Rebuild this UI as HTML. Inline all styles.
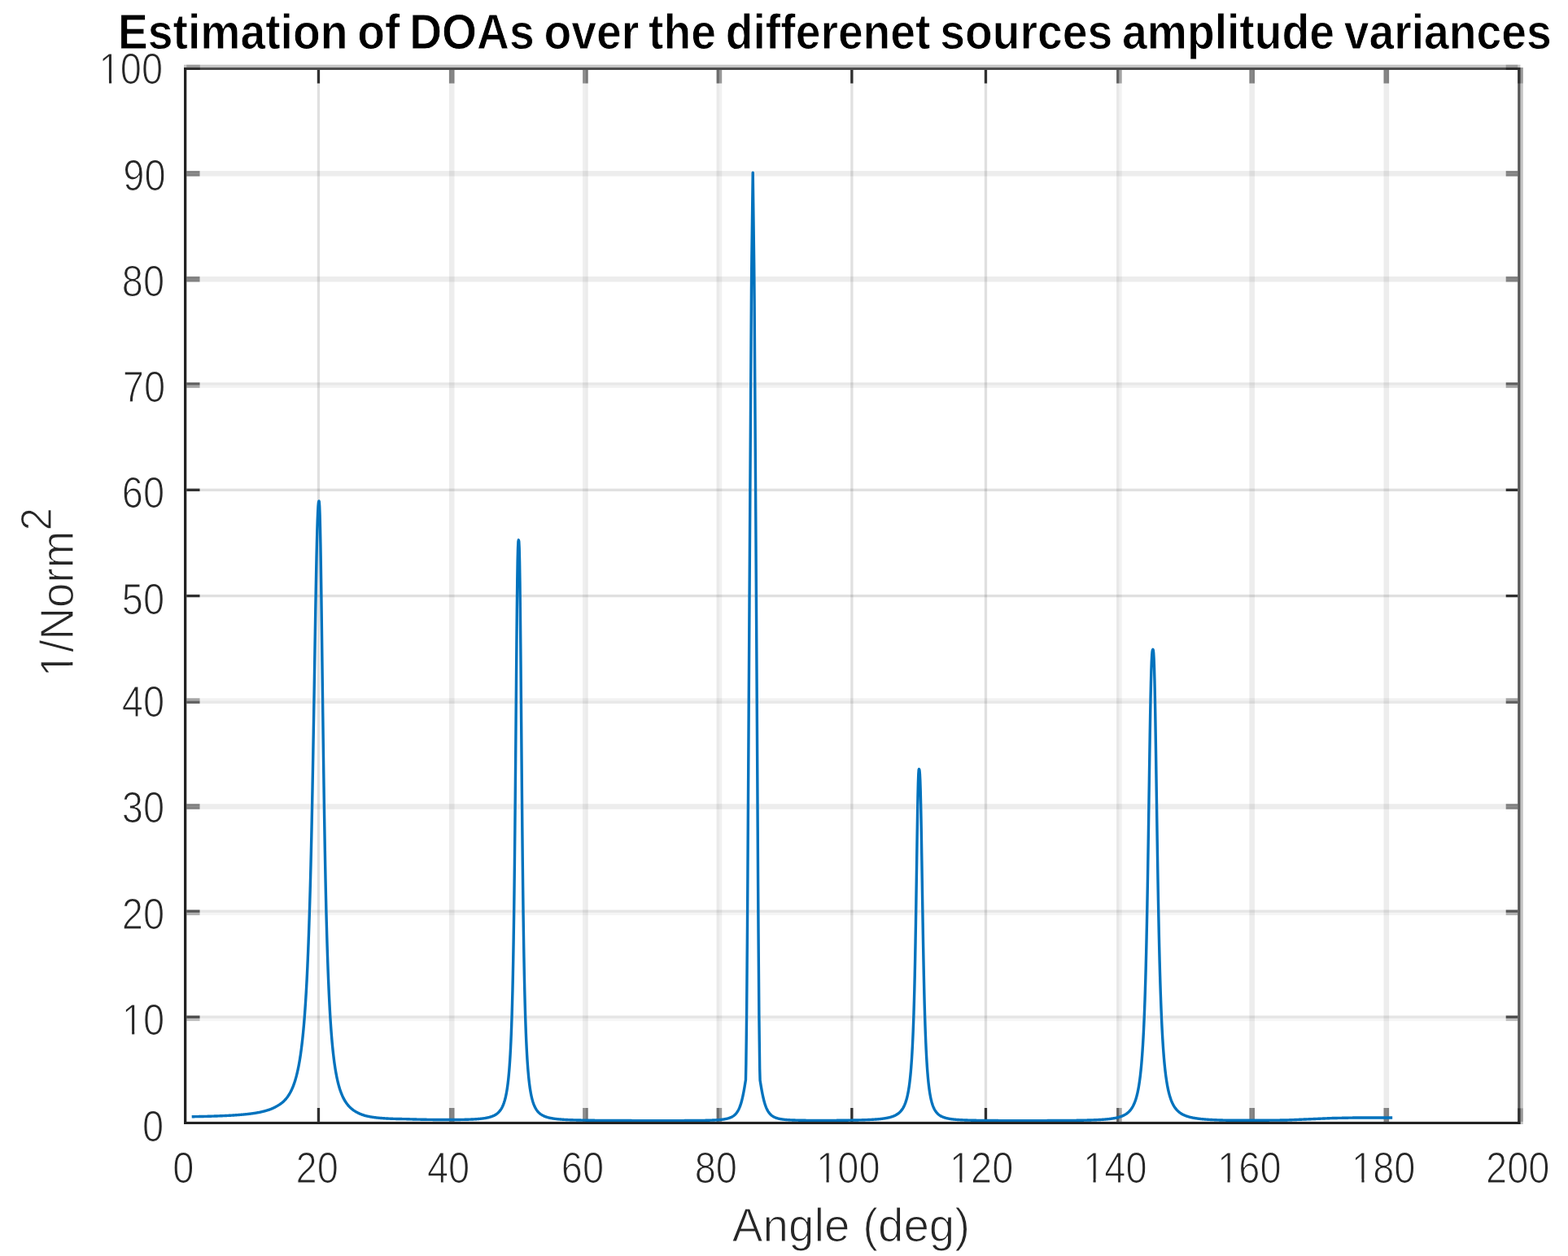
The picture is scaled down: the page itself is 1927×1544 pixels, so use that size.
<!DOCTYPE html>
<html><head><meta charset="utf-8"><title>Estimation of DOAs over the differenet sources amplitude variances</title>
<style>
html,body{margin:0;padding:0;background:#fff;}
body{width:1927px;height:1544px;overflow:hidden;}
svg{display:block;}
text{font-family:"Liberation Sans",Arial,Helvetica,sans-serif;}
</style></head><body>
<svg width="1927" height="1544" viewBox="0 0 1927 1544">
<rect x="0" y="0" width="1927" height="1544" fill="#ffffff"/>
<g fill="#262626"><rect x="389.80" y="86" width="3.3" height="1292.9" fill-opacity="0.142"/><rect x="551.90" y="86" width="3.3" height="1292.9" fill-opacity="0.081"/><rect x="555.20" y="86" width="3.3" height="1292.9" fill-opacity="0.081"/><rect x="716.10" y="86" width="3.3" height="1292.9" fill-opacity="0.073"/><rect x="719.40" y="86" width="3.3" height="1292.9" fill-opacity="0.089"/><rect x="880.60" y="86" width="3.3" height="1292.9" fill-opacity="0.097"/><rect x="883.90" y="86" width="3.3" height="1292.9" fill-opacity="0.065"/><rect x="1045.20" y="86" width="3.3" height="1292.9" fill-opacity="0.142"/><rect x="1209.80" y="86" width="3.3" height="1292.9" fill-opacity="0.142"/><rect x="1372.10" y="86" width="3.3" height="1292.9" fill-opacity="0.105"/><rect x="1375.40" y="86" width="3.3" height="1292.9" fill-opacity="0.057"/><rect x="1535.40" y="86" width="3.3" height="1292.9" fill-opacity="0.081"/><rect x="1538.70" y="86" width="3.3" height="1292.9" fill-opacity="0.081"/><rect x="1700.50" y="86" width="3.3" height="1292.9" fill-opacity="0.081"/><rect x="1703.80" y="86" width="3.3" height="1292.9" fill-opacity="0.081"/><rect x="229.3" y="210.10" width="1635.9" height="3.3" fill-opacity="0.081"/><rect x="229.3" y="213.40" width="1635.9" height="3.3" fill-opacity="0.081"/><rect x="229.3" y="339.90" width="1635.9" height="3.3" fill-opacity="0.081"/><rect x="229.3" y="343.20" width="1635.9" height="3.3" fill-opacity="0.081"/><rect x="229.3" y="470.20" width="1635.9" height="3.3" fill-opacity="0.105"/><rect x="229.3" y="473.50" width="1635.9" height="3.3" fill-opacity="0.057"/><rect x="229.3" y="600.65" width="1635.9" height="3.3" fill-opacity="0.142"/><rect x="229.3" y="730.90" width="1635.9" height="3.3" fill-opacity="0.142"/><rect x="229.3" y="858.30" width="1635.9" height="3.3" fill-opacity="0.057"/><rect x="229.3" y="861.60" width="1635.9" height="3.3" fill-opacity="0.105"/><rect x="229.3" y="988.20" width="1635.9" height="3.3" fill-opacity="0.081"/><rect x="229.3" y="991.50" width="1635.9" height="3.3" fill-opacity="0.081"/><rect x="229.3" y="1118.50" width="1635.9" height="3.3" fill-opacity="0.113"/><rect x="229.3" y="1121.80" width="1635.9" height="3.3" fill-opacity="0.049"/><rect x="229.3" y="1248.50" width="1635.9" height="3.3" fill-opacity="0.121"/><rect x="229.3" y="1251.80" width="1635.9" height="3.3" fill-opacity="0.041"/></g>
<g fill="#262626"><rect x="389.80" y="1362" width="3.3" height="16.9" fill-opacity="0.950"/><rect x="389.80" y="86" width="3.3" height="16.5" fill-opacity="0.950"/><rect x="551.90" y="1362" width="3.3" height="16.9" fill-opacity="0.540"/><rect x="551.90" y="86" width="3.3" height="16.5" fill-opacity="0.540"/><rect x="555.20" y="1362" width="3.3" height="16.9" fill-opacity="0.540"/><rect x="555.20" y="86" width="3.3" height="16.5" fill-opacity="0.540"/><rect x="716.10" y="1362" width="3.3" height="16.9" fill-opacity="0.486"/><rect x="716.10" y="86" width="3.3" height="16.5" fill-opacity="0.486"/><rect x="719.40" y="1362" width="3.3" height="16.9" fill-opacity="0.594"/><rect x="719.40" y="86" width="3.3" height="16.5" fill-opacity="0.594"/><rect x="880.60" y="1362" width="3.3" height="16.9" fill-opacity="0.648"/><rect x="880.60" y="86" width="3.3" height="16.5" fill-opacity="0.648"/><rect x="883.90" y="1362" width="3.3" height="16.9" fill-opacity="0.432"/><rect x="883.90" y="86" width="3.3" height="16.5" fill-opacity="0.432"/><rect x="1045.20" y="1362" width="3.3" height="16.9" fill-opacity="0.950"/><rect x="1045.20" y="86" width="3.3" height="16.5" fill-opacity="0.950"/><rect x="1209.80" y="1362" width="3.3" height="16.9" fill-opacity="0.950"/><rect x="1209.80" y="86" width="3.3" height="16.5" fill-opacity="0.950"/><rect x="1372.10" y="1362" width="3.3" height="16.9" fill-opacity="0.702"/><rect x="1372.10" y="86" width="3.3" height="16.5" fill-opacity="0.702"/><rect x="1375.40" y="1362" width="3.3" height="16.9" fill-opacity="0.378"/><rect x="1375.40" y="86" width="3.3" height="16.5" fill-opacity="0.378"/><rect x="1535.40" y="1362" width="3.3" height="16.9" fill-opacity="0.540"/><rect x="1535.40" y="86" width="3.3" height="16.5" fill-opacity="0.540"/><rect x="1538.70" y="1362" width="3.3" height="16.9" fill-opacity="0.540"/><rect x="1538.70" y="86" width="3.3" height="16.5" fill-opacity="0.540"/><rect x="1700.50" y="1362" width="3.3" height="16.9" fill-opacity="0.540"/><rect x="1700.50" y="86" width="3.3" height="16.5" fill-opacity="0.540"/><rect x="1703.80" y="1362" width="3.3" height="16.9" fill-opacity="0.540"/><rect x="1703.80" y="86" width="3.3" height="16.5" fill-opacity="0.540"/><rect x="229.3" y="210.10" width="16.2" height="3.3" fill-opacity="0.540"/><rect x="1850.70" y="210.10" width="14.5" height="3.3" fill-opacity="0.540"/><rect x="229.3" y="213.40" width="16.2" height="3.3" fill-opacity="0.540"/><rect x="1850.70" y="213.40" width="14.5" height="3.3" fill-opacity="0.540"/><rect x="229.3" y="339.90" width="16.2" height="3.3" fill-opacity="0.540"/><rect x="1850.70" y="339.90" width="14.5" height="3.3" fill-opacity="0.540"/><rect x="229.3" y="343.20" width="16.2" height="3.3" fill-opacity="0.540"/><rect x="1850.70" y="343.20" width="14.5" height="3.3" fill-opacity="0.540"/><rect x="229.3" y="470.20" width="16.2" height="3.3" fill-opacity="0.702"/><rect x="1850.70" y="470.20" width="14.5" height="3.3" fill-opacity="0.702"/><rect x="229.3" y="473.50" width="16.2" height="3.3" fill-opacity="0.378"/><rect x="1850.70" y="473.50" width="14.5" height="3.3" fill-opacity="0.378"/><rect x="229.3" y="600.65" width="16.2" height="3.3" fill-opacity="0.950"/><rect x="1850.70" y="600.65" width="14.5" height="3.3" fill-opacity="0.950"/><rect x="229.3" y="730.90" width="16.2" height="3.3" fill-opacity="0.950"/><rect x="1850.70" y="730.90" width="14.5" height="3.3" fill-opacity="0.950"/><rect x="229.3" y="858.30" width="16.2" height="3.3" fill-opacity="0.378"/><rect x="1850.70" y="858.30" width="14.5" height="3.3" fill-opacity="0.378"/><rect x="229.3" y="861.60" width="16.2" height="3.3" fill-opacity="0.702"/><rect x="1850.70" y="861.60" width="14.5" height="3.3" fill-opacity="0.702"/><rect x="229.3" y="988.20" width="16.2" height="3.3" fill-opacity="0.540"/><rect x="1850.70" y="988.20" width="14.5" height="3.3" fill-opacity="0.540"/><rect x="229.3" y="991.50" width="16.2" height="3.3" fill-opacity="0.540"/><rect x="1850.70" y="991.50" width="14.5" height="3.3" fill-opacity="0.540"/><rect x="229.3" y="1118.50" width="16.2" height="3.3" fill-opacity="0.756"/><rect x="1850.70" y="1118.50" width="14.5" height="3.3" fill-opacity="0.756"/><rect x="229.3" y="1121.80" width="16.2" height="3.3" fill-opacity="0.324"/><rect x="1850.70" y="1121.80" width="14.5" height="3.3" fill-opacity="0.324"/><rect x="229.3" y="1248.50" width="16.2" height="3.3" fill-opacity="0.810"/><rect x="1850.70" y="1248.50" width="14.5" height="3.3" fill-opacity="0.810"/><rect x="229.3" y="1251.80" width="16.2" height="3.3" fill-opacity="0.270"/><rect x="1850.70" y="1251.80" width="14.5" height="3.3" fill-opacity="0.270"/></g>
<g fill="#262626"><rect x="229.3" y="83" width="16.5" height="3" fill-opacity="0.82"/><rect x="229.3" y="79.6" width="16.5" height="3.4" fill-opacity="0.27"/><rect x="1850.70" y="83" width="14.5" height="3" fill-opacity="0.82"/><rect x="1850.70" y="79.6" width="14.5" height="3.4" fill-opacity="0.27"/><rect x="1865.2" y="86" width="3.3" height="16.5" fill-opacity="0.78"/><rect x="1868.5" y="83" width="3.3" height="19.5" fill-opacity="0.27"/><rect x="1865.2" y="1362.40" width="3.3" height="16.5" fill-opacity="0.78"/><rect x="1868.5" y="1362.40" width="3.3" height="16.5" fill-opacity="0.27"/></g>
<path d="M235.70,1372.74 L236.11,1372.73 L236.52,1372.73 L236.93,1372.72 L237.34,1372.71 L237.75,1372.70 L238.16,1372.70 L238.57,1372.69 L238.98,1372.68 L239.39,1372.67 L239.80,1372.67 L240.21,1372.66 L240.62,1372.65 L241.03,1372.64 L241.43,1372.63 L241.84,1372.62 L242.25,1372.62 L242.66,1372.61 L243.07,1372.60 L243.48,1372.59 L243.89,1372.58 L244.30,1372.57 L244.71,1372.56 L245.12,1372.56 L245.53,1372.55 L245.94,1372.54 L246.35,1372.53 L246.76,1372.52 L247.17,1372.51 L247.58,1372.50 L247.99,1372.49 L248.40,1372.48 L248.81,1372.47 L249.22,1372.46 L249.63,1372.45 L250.04,1372.44 L250.45,1372.43 L250.86,1372.42 L251.27,1372.41 L251.68,1372.40 L252.09,1372.39 L252.50,1372.38 L252.91,1372.37 L253.32,1372.36 L253.73,1372.35 L254.14,1372.34 L254.55,1372.33 L254.96,1372.32 L255.37,1372.31 L255.78,1372.29 L256.19,1372.28 L256.60,1372.27 L257.01,1372.26 L257.42,1372.25 L257.83,1372.24 L258.24,1372.22 L258.65,1372.21 L259.06,1372.20 L259.47,1372.19 L259.88,1372.18 L260.29,1372.16 L260.70,1372.15 L261.11,1372.14 L261.52,1372.12 L261.93,1372.11 L262.34,1372.10 L262.75,1372.09 L263.16,1372.07 L263.57,1372.06 L263.98,1372.04 L264.39,1372.03 L264.80,1372.02 L265.21,1372.00 L265.62,1371.99 L266.03,1371.97 L266.44,1371.96 L266.85,1371.94 L267.26,1371.93 L267.67,1371.91 L268.08,1371.90 L268.49,1371.88 L268.89,1371.87 L269.30,1371.85 L269.71,1371.84 L270.12,1371.82 L270.53,1371.80 L270.94,1371.79 L271.35,1371.77 L271.76,1371.75 L272.17,1371.74 L272.58,1371.72 L272.99,1371.70 L273.40,1371.69 L273.81,1371.67 L274.22,1371.65 L274.63,1371.63 L275.04,1371.61 L275.45,1371.60 L275.86,1371.58 L276.27,1371.56 L276.68,1371.54 L277.09,1371.52 L277.50,1371.50 L277.91,1371.48 L278.32,1371.46 L278.73,1371.44 L279.14,1371.42 L279.55,1371.40 L279.96,1371.38 L280.37,1371.36 L280.78,1371.33 L281.19,1371.31 L281.60,1371.29 L282.01,1371.27 L282.42,1371.25 L282.83,1371.22 L283.24,1371.20 L283.65,1371.18 L284.06,1371.15 L284.47,1371.13 L284.88,1371.11 L285.29,1371.08 L285.70,1371.06 L286.11,1371.03 L286.52,1371.01 L286.93,1370.98 L287.34,1370.95 L287.75,1370.93 L288.16,1370.90 L288.57,1370.87 L288.98,1370.85 L289.39,1370.82 L289.80,1370.79 L290.21,1370.76 L290.62,1370.73 L291.03,1370.70 L291.44,1370.67 L291.85,1370.64 L292.26,1370.61 L292.67,1370.58 L293.08,1370.55 L293.49,1370.52 L293.90,1370.49 L294.31,1370.46 L294.72,1370.42 L295.13,1370.39 L295.54,1370.36 L295.94,1370.32 L296.35,1370.29 L296.76,1370.25 L297.17,1370.22 L297.58,1370.18 L297.99,1370.14 L298.40,1370.11 L298.81,1370.07 L299.22,1370.03 L299.63,1369.99 L300.04,1369.95 L300.45,1369.91 L300.86,1369.87 L301.27,1369.83 L301.68,1369.79 L302.09,1369.75 L302.50,1369.71 L302.91,1369.66 L303.32,1369.62 L303.73,1369.57 L304.14,1369.53 L304.55,1369.48 L304.96,1369.44 L305.37,1369.39 L305.78,1369.34 L306.19,1369.29 L306.60,1369.24 L307.01,1369.19 L307.42,1369.14 L307.83,1369.09 L308.24,1369.04 L308.65,1368.98 L309.06,1368.93 L309.47,1368.87 L309.88,1368.82 L310.29,1368.76 L310.70,1368.70 L311.11,1368.64 L311.52,1368.58 L311.93,1368.52 L312.34,1368.46 L312.75,1368.40 L313.16,1368.33 L313.57,1368.27 L313.98,1368.20 L314.39,1368.14 L314.80,1368.07 L315.21,1368.00 L315.62,1367.93 L316.03,1367.86 L316.44,1367.78 L316.85,1367.71 L317.26,1367.63 L317.67,1367.56 L318.08,1367.48 L318.49,1367.40 L318.90,1367.32 L319.31,1367.24 L319.72,1367.15 L320.13,1367.07 L320.54,1366.98 L320.95,1366.89 L321.36,1366.80 L321.77,1366.71 L322.18,1366.62 L322.59,1366.52 L323.00,1366.42 L323.40,1366.32 L323.81,1366.22 L324.22,1366.12 L324.63,1366.02 L325.04,1365.91 L325.45,1365.80 L325.86,1365.69 L326.27,1365.58 L326.68,1365.46 L327.09,1365.34 L327.50,1365.22 L327.91,1365.10 L328.32,1364.98 L328.73,1364.85 L329.14,1364.72 L329.55,1364.59 L329.96,1364.45 L330.37,1364.31 L330.78,1364.17 L331.19,1364.03 L331.60,1363.88 L332.01,1363.73 L332.42,1363.57 L332.83,1363.42 L333.24,1363.25 L333.65,1363.09 L334.06,1362.92 L334.47,1362.75 L334.88,1362.58 L335.29,1362.40 L335.70,1362.21 L336.11,1362.02 L336.52,1361.83 L336.93,1361.63 L337.34,1361.43 L337.75,1361.23 L338.16,1361.02 L338.57,1360.80 L338.98,1360.58 L339.39,1360.35 L339.80,1360.12 L340.21,1359.88 L340.62,1359.64 L341.03,1359.39 L341.44,1359.13 L341.85,1358.87 L342.26,1358.60 L342.67,1358.35 L343.08,1358.10 L343.49,1357.84 L343.90,1357.57 L344.31,1357.29 L344.72,1357.01 L345.13,1356.71 L345.54,1356.41 L345.95,1356.10 L346.36,1355.78 L346.77,1355.44 L347.18,1355.10 L347.59,1354.75 L348.00,1354.39 L348.41,1354.01 L348.82,1353.63 L349.23,1353.23 L349.64,1352.82 L350.05,1352.39 L350.45,1351.95 L350.86,1351.50 L351.27,1351.03 L351.68,1350.55 L352.09,1350.04 L352.50,1349.53 L352.91,1348.99 L353.32,1348.44 L353.73,1347.87 L354.14,1347.27 L354.55,1346.66 L354.96,1346.02 L355.37,1345.37 L355.78,1344.69 L356.19,1343.98 L356.60,1343.25 L357.01,1342.49 L357.42,1341.70 L357.83,1340.88 L358.24,1340.03 L358.65,1339.15 L359.06,1338.24 L359.47,1337.29 L359.88,1336.30 L360.29,1335.27 L360.70,1334.20 L361.11,1333.09 L361.52,1331.93 L361.93,1330.72 L362.34,1329.46 L362.75,1328.15 L363.16,1326.79 L363.57,1325.36 L363.98,1323.87 L364.39,1322.32 L364.80,1320.69 L365.21,1319.00 L365.62,1317.22 L366.03,1315.36 L366.44,1313.42 L366.85,1311.39 L367.26,1309.25 L367.67,1307.02 L368.08,1304.67 L368.49,1302.21 L368.90,1299.62 L369.31,1296.91 L369.72,1294.05 L370.13,1291.05 L370.54,1287.89 L370.95,1284.56 L371.36,1281.05 L371.77,1277.35 L372.18,1273.44 L372.59,1269.32 L373.00,1264.96 L373.41,1260.36 L373.82,1255.49 L374.23,1250.34 L374.64,1244.88 L375.05,1239.10 L375.46,1232.97 L375.87,1226.47 L376.28,1219.56 L376.69,1212.24 L377.10,1204.45 L377.51,1196.18 L377.91,1187.39 L378.32,1178.04 L378.73,1168.09 L379.14,1157.51 L379.55,1146.26 L379.96,1134.29 L380.37,1121.56 L380.78,1108.04 L381.19,1093.68 L381.60,1078.43 L382.01,1062.28 L382.42,1045.18 L382.83,1027.12 L383.24,1008.08 L383.65,988.06 L384.06,967.09 L384.47,945.20 L384.88,922.45 L385.29,898.95 L385.70,874.81 L386.11,850.20 L386.52,825.32 L386.93,800.43 L387.34,775.80 L387.75,751.77 L388.16,728.68 L388.57,706.90 L388.98,686.80 L389.39,668.74 L389.80,653.05 L390.21,639.99 L390.62,629.73 L391.03,622.38 L391.44,617.89 L391.85,616.04 L392.01,615.93 L392.26,616.74 L392.67,622.14 L393.08,632.85 L393.49,648.69 L393.90,669.17 L394.31,693.59 L394.72,721.15 L395.13,750.99 L395.54,782.27 L395.95,814.24 L396.36,846.24 L396.77,877.76 L397.18,908.36 L397.59,937.76 L398.00,965.75 L398.41,992.21 L398.82,1017.07 L399.23,1040.33 L399.64,1062.01 L400.05,1082.18 L400.46,1100.89 L400.87,1118.23 L401.28,1134.29 L401.69,1149.15 L402.10,1162.90 L402.51,1175.63 L402.92,1187.41 L403.33,1198.32 L403.74,1208.43 L404.15,1217.81 L404.56,1226.51 L404.97,1234.60 L405.37,1242.12 L405.78,1249.12 L406.19,1255.64 L406.60,1261.72 L407.01,1267.40 L407.42,1272.71 L407.83,1277.68 L408.24,1282.31 L408.65,1286.64 L409.06,1290.71 L409.47,1294.53 L409.88,1298.13 L410.29,1301.51 L410.70,1304.69 L411.11,1307.69 L411.52,1310.53 L411.93,1313.20 L412.34,1315.73 L412.75,1318.12 L413.16,1320.39 L413.57,1322.54 L413.98,1324.57 L414.39,1326.51 L414.80,1328.34 L415.21,1330.09 L415.62,1331.75 L416.03,1333.33 L416.44,1334.84 L416.85,1336.28 L417.26,1337.65 L417.67,1338.96 L418.08,1340.20 L418.49,1341.40 L418.90,1342.54 L419.31,1343.63 L419.72,1344.68 L420.13,1345.68 L420.54,1346.64 L420.95,1347.57 L421.36,1348.45 L421.77,1349.30 L422.18,1350.12 L422.59,1350.90 L423.00,1351.65 L423.41,1352.38 L423.82,1353.08 L424.23,1353.75 L424.64,1354.40 L425.05,1355.02 L425.46,1355.62 L425.87,1356.20 L426.28,1356.76 L426.69,1357.30 L427.10,1357.83 L427.51,1358.33 L427.92,1358.82 L428.33,1359.29 L428.74,1359.75 L429.15,1360.19 L429.56,1360.61 L429.97,1361.03 L430.38,1361.43 L430.79,1361.81 L431.20,1362.19 L431.61,1362.55 L432.02,1362.91 L432.43,1363.25 L432.83,1363.58 L433.24,1363.90 L433.65,1364.22 L434.06,1364.52 L434.47,1364.82 L434.88,1365.10 L435.29,1365.38 L435.70,1365.66 L436.11,1365.92 L436.52,1366.18 L436.93,1366.43 L437.34,1366.67 L437.75,1366.91 L438.16,1367.14 L438.57,1367.36 L438.98,1367.58 L439.39,1367.79 L439.80,1368.00 L440.21,1368.20 L440.62,1368.40 L441.03,1368.59 L441.44,1368.78 L441.85,1368.96 L442.26,1369.14 L442.67,1369.32 L443.08,1369.49 L443.49,1369.65 L443.90,1369.82 L444.31,1369.98 L444.72,1370.13 L445.13,1370.28 L445.54,1370.43 L445.95,1370.58 L446.36,1370.72 L446.77,1370.86 L447.18,1370.99 L447.59,1371.13 L448.00,1371.26 L448.41,1371.38 L448.82,1371.51 L449.23,1371.61 L449.64,1371.71 L450.05,1371.81 L450.46,1371.91 L450.87,1372.00 L451.28,1372.09 L451.69,1372.18 L452.10,1372.27 L452.51,1372.35 L452.92,1372.44 L453.33,1372.52 L453.74,1372.60 L454.15,1372.67 L454.56,1372.75 L454.97,1372.82 L455.38,1372.90 L455.79,1372.97 L456.20,1373.04 L456.61,1373.10 L457.02,1373.17 L457.43,1373.23 L457.84,1373.30 L458.25,1373.36 L458.66,1373.42 L459.07,1373.47 L459.48,1373.53 L459.88,1373.59 L460.29,1373.64 L460.70,1373.70 L461.11,1373.75 L461.52,1373.80 L461.93,1373.85 L462.34,1373.90 L462.75,1373.94 L463.16,1373.99 L463.57,1374.04 L463.98,1374.08 L464.39,1374.12 L464.80,1374.17 L465.21,1374.21 L465.62,1374.25 L466.03,1374.29 L466.44,1374.33 L466.85,1374.36 L467.26,1374.40 L467.67,1374.44 L468.08,1374.47 L468.49,1374.51 L468.90,1374.54 L469.31,1374.57 L469.72,1374.60 L470.13,1374.64 L470.54,1374.67 L470.95,1374.70 L471.36,1374.73 L471.77,1374.75 L472.18,1374.78 L472.59,1374.81 L473.00,1374.84 L473.41,1374.86 L473.82,1374.89 L474.23,1374.91 L474.64,1374.94 L475.05,1374.96 L475.46,1374.98 L475.87,1375.01 L476.28,1375.03 L476.69,1375.05 L477.10,1375.07 L477.51,1375.09 L477.92,1375.11 L478.33,1375.13 L478.74,1375.15 L479.15,1375.17 L479.56,1375.18 L479.97,1375.20 L480.38,1375.22 L480.79,1375.24 L481.20,1375.25 L481.61,1375.27 L482.02,1375.28 L482.43,1375.30 L482.84,1375.31 L483.25,1375.33 L483.66,1375.34 L484.07,1375.35 L484.48,1375.37 L484.89,1375.38 L485.30,1375.39 L485.71,1375.40 L486.12,1375.41 L486.53,1375.43 L486.94,1375.44 L487.34,1375.45 L487.75,1375.46 L488.16,1375.47 L488.57,1375.48 L488.98,1375.49 L489.39,1375.49 L489.80,1375.50 L490.21,1375.51 L490.62,1375.52 L491.03,1375.53 L491.44,1375.53 L491.85,1375.54 L492.26,1375.55 L492.67,1375.56 L493.08,1375.56 L493.49,1375.57 L493.90,1375.57 L494.31,1375.58 L494.72,1375.58 L495.13,1375.59 L495.54,1375.59 L495.95,1375.60 L496.36,1375.60 L496.77,1375.61 L497.18,1375.61 L497.59,1375.62 L498.00,1375.62 L498.41,1375.64 L498.82,1375.65 L499.23,1375.67 L499.64,1375.68 L500.05,1375.70 L500.46,1375.71 L500.87,1375.73 L501.28,1375.74 L501.69,1375.76 L502.10,1375.77 L502.51,1375.79 L502.92,1375.80 L503.33,1375.81 L503.74,1375.83 L504.15,1375.84 L504.56,1375.86 L504.97,1375.87 L505.38,1375.88 L505.79,1375.89 L506.20,1375.91 L506.61,1375.92 L507.02,1375.93 L507.43,1375.94 L507.84,1375.96 L508.25,1375.97 L508.66,1375.98 L509.07,1375.99 L509.48,1376.00 L509.89,1376.01 L510.30,1376.02 L510.71,1376.04 L511.12,1376.05 L511.53,1376.06 L511.94,1376.07 L512.35,1376.08 L512.76,1376.09 L513.17,1376.10 L513.58,1376.11 L513.99,1376.12 L514.39,1376.13 L514.80,1376.14 L515.21,1376.15 L515.62,1376.16 L516.03,1376.16 L516.44,1376.17 L516.85,1376.18 L517.26,1376.19 L517.67,1376.20 L518.08,1376.21 L518.49,1376.22 L518.90,1376.22 L519.31,1376.23 L519.72,1376.24 L520.13,1376.25 L520.54,1376.26 L520.95,1376.26 L521.36,1376.27 L521.77,1376.28 L522.18,1376.29 L522.59,1376.29 L523.00,1376.30 L523.41,1376.31 L523.82,1376.31 L524.23,1376.32 L524.64,1376.33 L525.05,1376.33 L525.46,1376.34 L525.87,1376.35 L526.28,1376.35 L526.69,1376.36 L527.10,1376.37 L527.51,1376.37 L527.92,1376.38 L528.33,1376.38 L528.74,1376.39 L529.15,1376.39 L529.56,1376.40 L529.97,1376.40 L530.38,1376.41 L530.79,1376.41 L531.20,1376.42 L531.61,1376.42 L532.02,1376.43 L532.43,1376.43 L532.84,1376.44 L533.25,1376.44 L533.66,1376.45 L534.07,1376.45 L534.48,1376.46 L534.89,1376.46 L535.30,1376.46 L535.71,1376.47 L536.12,1376.47 L536.53,1376.47 L536.94,1376.48 L537.35,1376.48 L537.76,1376.49 L538.17,1376.49 L538.58,1376.49 L538.99,1376.49 L539.40,1376.50 L539.81,1376.50 L540.22,1376.50 L540.63,1376.51 L541.04,1376.51 L541.45,1376.51 L541.85,1376.51 L542.26,1376.51 L542.67,1376.52 L543.08,1376.52 L543.49,1376.52 L543.90,1376.52 L544.31,1376.52 L544.72,1376.53 L545.13,1376.53 L545.54,1376.53 L545.95,1376.53 L546.36,1376.53 L546.77,1376.53 L547.18,1376.53 L547.59,1376.53 L548.00,1376.53 L548.41,1376.53 L548.82,1376.53 L549.23,1376.53 L549.64,1376.54 L550.05,1376.54 L550.46,1376.53 L550.87,1376.53 L551.28,1376.53 L551.69,1376.53 L552.10,1376.53 L552.51,1376.53 L552.92,1376.53 L553.33,1376.53 L553.74,1376.53 L554.15,1376.53 L554.56,1376.53 L554.97,1376.53 L555.38,1376.52 L555.79,1376.52 L556.20,1376.52 L556.61,1376.52 L557.02,1376.52 L557.43,1376.51 L557.84,1376.51 L558.25,1376.51 L558.66,1376.50 L559.07,1376.50 L559.48,1376.50 L559.89,1376.49 L560.30,1376.49 L560.71,1376.49 L561.12,1376.48 L561.53,1376.48 L561.94,1376.47 L562.35,1376.47 L562.76,1376.47 L563.17,1376.46 L563.58,1376.46 L563.99,1376.45 L564.40,1376.44 L564.81,1376.44 L565.22,1376.43 L565.63,1376.43 L566.04,1376.42 L566.45,1376.41 L566.86,1376.41 L567.27,1376.40 L567.68,1376.39 L568.09,1376.38 L568.50,1376.38 L568.91,1376.37 L569.31,1376.36 L569.72,1376.35 L570.13,1376.34 L570.54,1376.33 L570.95,1376.32 L571.36,1376.31 L571.77,1376.30 L572.18,1376.29 L572.59,1376.28 L573.00,1376.27 L573.41,1376.26 L573.82,1376.25 L574.23,1376.23 L574.64,1376.22 L575.05,1376.21 L575.46,1376.19 L575.87,1376.18 L576.28,1376.17 L576.69,1376.15 L577.10,1376.14 L577.51,1376.12 L577.92,1376.10 L578.33,1376.09 L578.74,1376.07 L579.15,1376.05 L579.56,1376.03 L579.97,1376.02 L580.38,1376.00 L580.79,1375.98 L581.20,1375.96 L581.61,1375.93 L582.02,1375.91 L582.43,1375.89 L582.84,1375.87 L583.25,1375.84 L583.66,1375.82 L584.07,1375.79 L584.48,1375.77 L584.89,1375.74 L585.30,1375.71 L585.71,1375.68 L586.12,1375.65 L586.53,1375.62 L586.94,1375.59 L587.35,1375.56 L587.76,1375.53 L588.17,1375.49 L588.58,1375.46 L588.99,1375.42 L589.40,1375.38 L589.81,1375.34 L590.22,1375.30 L590.63,1375.26 L591.04,1375.22 L591.45,1375.17 L591.86,1375.13 L592.27,1375.08 L592.68,1375.03 L593.09,1374.98 L593.50,1374.92 L593.91,1374.87 L594.32,1374.81 L594.73,1374.75 L595.14,1374.69 L595.55,1374.63 L595.96,1374.57 L596.37,1374.50 L596.77,1374.43 L597.18,1374.36 L597.59,1374.28 L598.00,1374.20 L598.41,1374.12 L598.82,1374.04 L599.23,1373.95 L599.64,1373.86 L600.05,1373.76 L600.46,1373.67 L600.87,1373.56 L601.28,1373.46 L601.69,1373.35 L602.10,1373.23 L602.51,1373.11 L602.92,1372.98 L603.33,1372.85 L603.74,1372.72 L604.15,1372.57 L604.56,1372.42 L604.97,1372.27 L605.38,1372.11 L605.79,1371.94 L606.20,1371.76 L606.61,1371.57 L607.02,1371.38 L607.43,1371.17 L607.84,1370.96 L608.25,1370.73 L608.66,1370.49 L609.07,1370.25 L609.48,1369.98 L609.89,1369.71 L610.30,1369.42 L610.71,1369.11 L611.12,1368.79 L611.53,1368.45 L611.94,1368.09 L612.35,1367.71 L612.76,1367.31 L613.17,1366.88 L613.58,1366.43 L613.99,1365.95 L614.40,1365.44 L614.81,1364.90 L615.22,1364.32 L615.63,1363.71 L616.04,1363.05 L616.45,1362.35 L616.86,1361.61 L617.27,1360.81 L617.68,1359.95 L618.09,1359.03 L618.50,1358.04 L618.91,1356.98 L619.32,1355.83 L619.73,1354.59 L620.14,1353.26 L620.55,1351.81 L620.96,1350.24 L621.37,1348.53 L621.78,1346.68 L622.19,1344.66 L622.60,1342.44 L623.01,1340.02 L623.42,1337.37 L623.82,1334.45 L624.23,1331.23 L624.64,1327.68 L625.05,1323.75 L625.46,1319.39 L625.87,1314.53 L626.28,1309.11 L626.69,1303.06 L627.10,1296.26 L627.51,1288.62 L627.92,1280.01 L628.33,1270.28 L628.74,1259.25 L629.15,1246.72 L629.56,1232.46 L629.97,1216.22 L630.38,1197.69 L630.79,1176.55 L631.20,1152.46 L631.61,1125.08 L632.02,1094.10 L632.43,1059.31 L632.84,1020.65 L633.25,978.34 L633.66,932.97 L634.07,885.66 L634.48,838.07 L634.89,792.38 L635.30,751.07 L635.71,716.52 L636.12,690.50 L636.53,673.73 L636.94,665.59 L637.35,663.81 L637.76,665.59 L638.17,673.74 L638.58,690.50 L638.99,716.53 L639.40,751.08 L639.81,792.39 L640.22,838.09 L640.63,885.68 L641.04,933.00 L641.45,978.36 L641.86,1020.68 L642.27,1059.34 L642.68,1094.14 L643.09,1125.11 L643.50,1152.50 L643.91,1176.59 L644.32,1197.73 L644.73,1216.26 L645.14,1232.51 L645.55,1246.77 L645.96,1259.30 L646.37,1270.33 L646.78,1280.07 L647.19,1288.68 L647.60,1296.33 L648.01,1303.12 L648.42,1309.18 L648.83,1314.60 L649.24,1319.46 L649.65,1323.83 L650.06,1327.76 L650.47,1331.32 L650.88,1334.53 L651.28,1337.46 L651.69,1340.11 L652.10,1342.54 L652.51,1344.75 L652.92,1346.77 L653.33,1348.63 L653.74,1350.34 L654.15,1351.91 L654.56,1353.36 L654.97,1354.70 L655.38,1355.94 L655.79,1357.09 L656.20,1358.16 L656.61,1359.15 L657.02,1360.07 L657.43,1360.93 L657.84,1361.73 L658.25,1362.48 L658.66,1363.18 L659.07,1363.84 L659.48,1364.46 L659.89,1365.04 L660.30,1365.58 L660.71,1366.09 L661.12,1366.58 L661.53,1367.03 L661.94,1367.46 L662.35,1367.86 L662.76,1368.25 L663.17,1368.61 L663.58,1368.95 L663.99,1369.28 L664.40,1369.59 L664.81,1369.88 L665.22,1370.16 L665.63,1370.42 L666.04,1370.67 L666.45,1370.91 L666.86,1371.14 L667.27,1371.36 L667.68,1371.57 L668.09,1371.77 L668.50,1371.96 L668.91,1372.14 L669.32,1372.31 L669.73,1372.47 L670.14,1372.63 L670.55,1372.78 L670.96,1372.93 L671.37,1373.07 L671.78,1373.20 L672.19,1373.33 L672.60,1373.46 L673.01,1373.57 L673.42,1373.69 L673.83,1373.80 L674.24,1373.90 L674.65,1374.00 L675.06,1374.10 L675.47,1374.19 L675.88,1374.29 L676.29,1374.37 L676.70,1374.46 L677.11,1374.54 L677.52,1374.62 L677.93,1374.69 L678.34,1374.76 L678.74,1374.84 L679.15,1374.90 L679.56,1374.97 L679.97,1375.03 L680.38,1375.09 L680.79,1375.15 L681.20,1375.21 L681.61,1375.27 L682.02,1375.32 L682.43,1375.37 L682.84,1375.43 L683.25,1375.48 L683.66,1375.52 L684.07,1375.57 L684.48,1375.61 L684.89,1375.66 L685.30,1375.70 L685.71,1375.74 L686.12,1375.78 L686.53,1375.82 L686.94,1375.86 L687.35,1375.89 L687.76,1375.93 L688.17,1375.97 L688.58,1376.00 L688.99,1376.03 L689.40,1376.06 L689.81,1376.10 L690.22,1376.13 L690.63,1376.15 L691.04,1376.18 L691.45,1376.21 L691.86,1376.24 L692.27,1376.27 L692.68,1376.29 L693.09,1376.32 L693.50,1376.34 L693.91,1376.37 L694.32,1376.39 L694.73,1376.41 L695.14,1376.43 L695.55,1376.46 L695.96,1376.48 L696.37,1376.50 L696.78,1376.52 L697.19,1376.54 L697.60,1376.56 L698.01,1376.58 L698.42,1376.59 L698.83,1376.61 L699.24,1376.63 L699.65,1376.65 L700.06,1376.66 L700.47,1376.68 L700.88,1376.70 L701.29,1376.71 L701.70,1376.73 L702.11,1376.74 L702.52,1376.76 L702.93,1376.77 L703.34,1376.79 L703.75,1376.80 L704.16,1376.81 L704.57,1376.83 L704.98,1376.84 L705.39,1376.85 L705.79,1376.87 L706.20,1376.88 L706.61,1376.89 L707.02,1376.90 L707.43,1376.91 L707.84,1376.92 L708.25,1376.94 L708.66,1376.95 L709.07,1376.96 L709.48,1376.97 L709.89,1376.98 L710.30,1376.99 L710.71,1377.00 L711.12,1377.01 L711.53,1377.02 L711.94,1377.03 L712.35,1377.04 L712.76,1377.04 L713.17,1377.05 L713.58,1377.06 L713.99,1377.07 L714.40,1377.08 L714.81,1377.09 L715.22,1377.10 L715.63,1377.10 L716.04,1377.11 L716.45,1377.12 L716.86,1377.13 L717.27,1377.13 L717.68,1377.14 L718.09,1377.15 L718.50,1377.16 L718.91,1377.16 L719.32,1377.17 L719.73,1377.18 L720.14,1377.18 L720.55,1377.19 L720.96,1377.20 L721.37,1377.20 L721.78,1377.21 L722.19,1377.21 L722.60,1377.22 L723.01,1377.23 L723.42,1377.23 L723.83,1377.24 L724.24,1377.24 L724.65,1377.25 L725.06,1377.25 L725.47,1377.26 L725.88,1377.26 L726.29,1377.27 L726.70,1377.27 L727.11,1377.28 L727.52,1377.28 L727.93,1377.29 L728.34,1377.29 L728.75,1377.30 L729.16,1377.30 L729.57,1377.31 L729.98,1377.31 L730.39,1377.32 L730.80,1377.32 L731.21,1377.33 L731.62,1377.33 L732.03,1377.33 L732.44,1377.34 L732.85,1377.34 L733.25,1377.35 L733.66,1377.35 L734.07,1377.35 L734.48,1377.36 L734.89,1377.36 L735.30,1377.37 L735.71,1377.37 L736.12,1377.37 L736.53,1377.38 L736.94,1377.38 L737.35,1377.38 L737.76,1377.39 L738.17,1377.39 L738.58,1377.39 L738.99,1377.40 L739.40,1377.40 L739.81,1377.40 L740.22,1377.41 L740.63,1377.41 L741.04,1377.41 L741.45,1377.42 L741.86,1377.42 L742.27,1377.42 L742.68,1377.43 L743.09,1377.43 L743.50,1377.43 L743.91,1377.43 L744.32,1377.44 L744.73,1377.44 L745.14,1377.44 L745.55,1377.44 L745.96,1377.45 L746.37,1377.45 L746.78,1377.45 L747.19,1377.46 L747.60,1377.46 L748.01,1377.46 L748.42,1377.46 L748.83,1377.46 L749.24,1377.47 L749.65,1377.47 L750.06,1377.47 L750.47,1377.47 L750.88,1377.48 L751.29,1377.48 L751.70,1377.48 L752.11,1377.48 L752.52,1377.49 L752.93,1377.49 L753.34,1377.49 L753.75,1377.49 L754.16,1377.49 L754.57,1377.50 L754.98,1377.50 L755.39,1377.50 L755.80,1377.50 L756.21,1377.50 L756.62,1377.51 L757.03,1377.51 L757.44,1377.51 L757.85,1377.51 L758.26,1377.51 L758.67,1377.51 L759.08,1377.52 L759.49,1377.52 L759.90,1377.52 L760.30,1377.52 L760.71,1377.52 L761.12,1377.53 L761.53,1377.53 L761.94,1377.53 L762.35,1377.53 L762.76,1377.53 L763.17,1377.53 L763.58,1377.53 L763.99,1377.54 L764.40,1377.54 L764.81,1377.54 L765.22,1377.54 L765.63,1377.54 L766.04,1377.54 L766.45,1377.55 L766.86,1377.55 L767.27,1377.55 L767.68,1377.55 L768.09,1377.55 L768.50,1377.55 L768.91,1377.55 L769.32,1377.55 L769.73,1377.56 L770.14,1377.56 L770.55,1377.56 L770.96,1377.56 L771.37,1377.56 L771.78,1377.56 L772.19,1377.56 L772.60,1377.56 L773.01,1377.57 L773.42,1377.57 L773.83,1377.57 L774.24,1377.57 L774.65,1377.57 L775.06,1377.57 L775.47,1377.57 L775.88,1377.57 L776.29,1377.57 L776.70,1377.58 L777.11,1377.58 L777.52,1377.58 L777.93,1377.58 L778.34,1377.58 L778.75,1377.58 L779.16,1377.58 L779.57,1377.58 L779.98,1377.58 L780.39,1377.58 L780.80,1377.59 L781.21,1377.59 L781.62,1377.59 L782.03,1377.59 L782.44,1377.59 L782.85,1377.59 L783.26,1377.59 L783.67,1377.59 L784.08,1377.59 L784.49,1377.59 L784.90,1377.59 L785.31,1377.59 L785.72,1377.60 L786.13,1377.60 L786.54,1377.60 L786.95,1377.60 L787.36,1377.60 L787.76,1377.60 L788.17,1377.60 L788.58,1377.60 L788.99,1377.60 L789.40,1377.60 L789.81,1377.60 L790.22,1377.60 L790.63,1377.60 L791.04,1377.60 L791.45,1377.61 L791.86,1377.61 L792.27,1377.61 L792.68,1377.61 L793.09,1377.61 L793.50,1377.61 L793.91,1377.61 L794.32,1377.61 L794.73,1377.61 L795.14,1377.61 L795.55,1377.61 L795.96,1377.61 L796.37,1377.61 L796.78,1377.61 L797.19,1377.61 L797.60,1377.61 L798.01,1377.61 L798.42,1377.61 L798.83,1377.61 L799.24,1377.61 L799.65,1377.61 L800.06,1377.62 L800.47,1377.62 L800.88,1377.62 L801.29,1377.62 L801.70,1377.62 L802.11,1377.62 L802.52,1377.62 L802.93,1377.62 L803.34,1377.62 L803.75,1377.62 L804.16,1377.62 L804.57,1377.62 L804.98,1377.62 L805.39,1377.62 L805.80,1377.62 L806.21,1377.62 L806.62,1377.62 L807.03,1377.62 L807.44,1377.62 L807.85,1377.62 L808.26,1377.62 L808.67,1377.62 L809.08,1377.62 L809.49,1377.62 L809.90,1377.62 L810.31,1377.62 L810.72,1377.62 L811.13,1377.62 L811.54,1377.62 L811.95,1377.62 L812.36,1377.62 L812.77,1377.62 L813.18,1377.62 L813.59,1377.62 L814.00,1377.62 L814.41,1377.62 L814.82,1377.62 L815.22,1377.62 L815.63,1377.62 L816.04,1377.62 L816.45,1377.62 L816.86,1377.62 L817.27,1377.62 L817.68,1377.62 L818.09,1377.62 L818.50,1377.62 L818.91,1377.62 L819.32,1377.62 L819.73,1377.62 L820.14,1377.62 L820.55,1377.62 L820.96,1377.62 L821.37,1377.62 L821.78,1377.62 L822.19,1377.62 L822.60,1377.62 L823.01,1377.62 L823.42,1377.62 L823.83,1377.61 L824.24,1377.61 L824.65,1377.61 L825.06,1377.61 L825.47,1377.61 L825.88,1377.61 L826.29,1377.61 L826.70,1377.61 L827.11,1377.61 L827.52,1377.61 L827.93,1377.61 L828.34,1377.61 L828.75,1377.61 L829.16,1377.61 L829.57,1377.61 L829.98,1377.61 L830.39,1377.61 L830.80,1377.60 L831.21,1377.60 L831.62,1377.60 L832.03,1377.60 L832.44,1377.60 L832.85,1377.60 L833.26,1377.60 L833.67,1377.60 L834.08,1377.60 L834.49,1377.60 L834.90,1377.60 L835.31,1377.59 L835.72,1377.59 L836.13,1377.59 L836.54,1377.59 L836.95,1377.59 L837.36,1377.59 L837.77,1377.59 L838.18,1377.59 L838.59,1377.58 L839.00,1377.58 L839.41,1377.58 L839.82,1377.58 L840.23,1377.58 L840.64,1377.58 L841.05,1377.57 L841.46,1377.57 L841.87,1377.57 L842.27,1377.57 L842.68,1377.57 L843.09,1377.57 L843.50,1377.56 L843.91,1377.56 L844.32,1377.56 L844.73,1377.56 L845.14,1377.56 L845.55,1377.55 L845.96,1377.55 L846.37,1377.55 L846.78,1377.55 L847.19,1377.55 L847.60,1377.54 L848.01,1377.54 L848.42,1377.54 L848.83,1377.54 L849.24,1377.53 L849.65,1377.53 L850.06,1377.53 L850.47,1377.52 L850.88,1377.52 L851.29,1377.52 L851.70,1377.52 L852.11,1377.51 L852.52,1377.51 L852.93,1377.51 L853.34,1377.50 L853.75,1377.50 L854.16,1377.50 L854.57,1377.49 L854.98,1377.49 L855.39,1377.48 L855.80,1377.48 L856.21,1377.48 L856.62,1377.47 L857.03,1377.47 L857.44,1377.46 L857.85,1377.46 L858.26,1377.45 L858.67,1377.45 L859.08,1377.44 L859.49,1377.44 L859.90,1377.43 L860.31,1377.43 L860.72,1377.42 L861.13,1377.42 L861.54,1377.41 L861.95,1377.41 L862.36,1377.40 L862.77,1377.39 L863.18,1377.39 L863.59,1377.38 L864.00,1377.37 L864.41,1377.37 L864.82,1377.36 L865.23,1377.35 L865.64,1377.34 L866.05,1377.34 L866.46,1377.33 L866.87,1377.32 L867.28,1377.31 L867.69,1377.30 L868.10,1377.29 L868.51,1377.28 L868.92,1377.27 L869.33,1377.26 L869.73,1377.25 L870.14,1377.24 L870.55,1377.23 L870.96,1377.22 L871.37,1377.21 L871.78,1377.20 L872.19,1377.19 L872.60,1377.17 L873.01,1377.16 L873.42,1377.15 L873.83,1377.13 L874.24,1377.12 L874.65,1377.10 L875.06,1377.09 L875.47,1377.07 L875.88,1377.05 L876.29,1377.04 L876.70,1377.02 L877.11,1377.00 L877.52,1376.98 L877.93,1376.96 L878.34,1376.94 L878.75,1376.92 L879.16,1376.90 L879.57,1376.87 L879.98,1376.85 L880.39,1376.83 L880.80,1376.80 L881.21,1376.77 L881.62,1376.75 L882.03,1376.72 L882.44,1376.69 L882.85,1376.66 L883.26,1376.63 L883.67,1376.59 L884.08,1376.56 L884.49,1376.52 L884.90,1376.49 L885.31,1376.45 L885.72,1376.41 L886.13,1376.36 L886.54,1376.32 L886.95,1376.27 L887.36,1376.22 L887.77,1376.17 L888.18,1376.12 L888.59,1376.07 L889.00,1376.01 L889.41,1375.95 L889.82,1375.89 L890.23,1375.82 L890.64,1375.75 L891.05,1375.68 L891.46,1375.60 L891.87,1375.52 L892.28,1375.44 L892.69,1375.35 L893.10,1375.26 L893.51,1375.17 L893.92,1375.06 L894.33,1374.96 L894.74,1374.84 L895.15,1374.73 L895.56,1374.60 L895.97,1374.47 L896.38,1374.33 L896.79,1374.18 L897.19,1374.03 L897.60,1373.86 L898.01,1373.69 L898.42,1373.51 L898.83,1373.31 L899.24,1373.11 L899.65,1372.89 L900.06,1372.66 L900.47,1372.41 L900.88,1372.15 L901.29,1371.87 L901.70,1371.57 L902.11,1371.26 L902.52,1370.92 L902.93,1370.56 L903.34,1370.18 L903.75,1369.77 L904.16,1369.33 L904.57,1368.87 L904.98,1368.37 L905.39,1367.83 L905.80,1367.26 L906.21,1366.65 L906.62,1365.99 L907.03,1365.29 L907.44,1364.53 L907.85,1363.72 L908.26,1362.85 L908.67,1361.92 L909.08,1360.92 L909.49,1359.84 L909.90,1358.69 L910.31,1357.46 L910.72,1356.14 L911.13,1354.72 L911.54,1353.22 L911.95,1351.61 L912.36,1349.90 L912.77,1348.08 L913.18,1346.16 L913.59,1344.13 L914.00,1341.99 L914.41,1339.76 L914.82,1337.43 L915.23,1335.02 L915.64,1332.54 L916.05,1330.01 L916.46,1327.45 L916.87,1306.93 L917.28,1274.46 L917.69,1237.30 L918.10,1186.76 L918.51,1136.31 L918.92,1074.76 L919.33,1008.54 L919.74,942.49 L920.15,876.62 L920.56,810.96 L920.97,745.50 L921.38,680.25 L921.79,615.19 L922.20,550.32 L922.61,485.62 L923.02,421.07 L923.43,356.65 L923.84,318.64 L924.25,287.29 L924.65,255.99 L925.06,224.72 L925.23,212.22 L925.47,230.97 L925.88,262.25 L926.29,293.55 L926.70,324.92 L927.11,369.52 L927.52,433.97 L927.93,498.55 L928.34,563.28 L928.75,628.19 L929.16,693.28 L929.57,758.58 L929.98,824.07 L930.39,889.78 L930.80,955.67 L931.21,1021.76 L931.62,1088.01 L932.03,1146.38 L932.44,1196.85 L932.85,1247.41 L933.26,1280.94 L933.67,1313.41 L934.08,1327.95 L934.49,1330.51 L934.90,1333.03 L935.31,1335.50 L935.72,1337.89 L936.13,1340.20 L936.54,1342.41 L936.95,1344.53 L937.36,1346.53 L937.77,1348.44 L938.18,1350.23 L938.59,1351.92 L939.00,1353.51 L939.41,1355.00 L939.82,1356.39 L940.23,1357.69 L940.64,1358.91 L941.05,1360.04 L941.46,1361.10 L941.87,1362.09 L942.28,1363.01 L942.69,1363.86 L943.10,1364.66 L943.51,1365.41 L943.92,1366.10 L944.33,1366.75 L944.74,1367.35 L945.15,1367.92 L945.56,1368.44 L945.97,1368.94 L946.38,1369.40 L946.79,1369.83 L947.20,1370.23 L947.61,1370.61 L948.02,1370.96 L948.43,1371.29 L948.84,1371.60 L949.25,1371.90 L949.66,1372.17 L950.07,1372.43 L950.48,1372.67 L950.89,1372.90 L951.30,1373.12 L951.70,1373.32 L952.11,1373.51 L952.52,1373.69 L952.93,1373.86 L953.34,1374.02 L953.75,1374.18 L954.16,1374.32 L954.57,1374.46 L954.98,1374.59 L955.39,1374.71 L955.80,1374.83 L956.21,1374.94 L956.62,1375.04 L957.03,1375.14 L957.44,1375.24 L957.85,1375.33 L958.26,1375.42 L958.67,1375.50 L959.08,1375.58 L959.49,1375.65 L959.90,1375.72 L960.31,1375.79 L960.72,1375.85 L961.13,1375.91 L961.54,1375.97 L961.95,1376.03 L962.36,1376.08 L962.77,1376.14 L963.18,1376.18 L963.59,1376.23 L964.00,1376.28 L964.41,1376.32 L964.82,1376.36 L965.23,1376.40 L965.64,1376.44 L966.05,1376.48 L966.46,1376.51 L966.87,1376.54 L967.28,1376.58 L967.69,1376.61 L968.10,1376.64 L968.51,1376.67 L968.92,1376.69 L969.33,1376.72 L969.74,1376.75 L970.15,1376.77 L970.56,1376.79 L970.97,1376.82 L971.38,1376.84 L971.79,1376.86 L972.20,1376.88 L972.61,1376.90 L973.02,1376.92 L973.43,1376.94 L973.84,1376.95 L974.25,1376.97 L974.66,1376.99 L975.07,1377.00 L975.48,1377.02 L975.89,1377.03 L976.30,1377.05 L976.71,1377.06 L977.12,1377.07 L977.53,1377.09 L977.94,1377.10 L978.35,1377.11 L978.76,1377.12 L979.16,1377.13 L979.57,1377.14 L979.98,1377.15 L980.39,1377.16 L980.80,1377.17 L981.21,1377.18 L981.62,1377.19 L982.03,1377.20 L982.44,1377.21 L982.85,1377.22 L983.26,1377.22 L983.67,1377.23 L984.08,1377.24 L984.49,1377.25 L984.90,1377.25 L985.31,1377.26 L985.72,1377.27 L986.13,1377.27 L986.54,1377.28 L986.95,1377.28 L987.36,1377.29 L987.77,1377.29 L988.18,1377.30 L988.59,1377.30 L989.00,1377.31 L989.41,1377.31 L989.82,1377.32 L990.23,1377.32 L990.64,1377.33 L991.05,1377.33 L991.46,1377.33 L991.87,1377.34 L992.28,1377.34 L992.69,1377.35 L993.10,1377.35 L993.51,1377.35 L993.92,1377.35 L994.33,1377.36 L994.74,1377.36 L995.15,1377.36 L995.56,1377.37 L995.97,1377.37 L996.38,1377.37 L996.79,1377.37 L997.20,1377.37 L997.61,1377.38 L998.02,1377.38 L998.43,1377.38 L998.84,1377.38 L999.25,1377.38 L999.66,1377.39 L1000.07,1377.39 L1000.48,1377.39 L1000.89,1377.39 L1001.30,1377.39 L1001.71,1377.39 L1002.12,1377.39 L1002.53,1377.39 L1002.94,1377.39 L1003.35,1377.40 L1003.76,1377.40 L1004.17,1377.40 L1004.58,1377.40 L1004.99,1377.40 L1005.40,1377.40 L1005.81,1377.40 L1006.22,1377.40 L1006.62,1377.40 L1007.03,1377.40 L1007.44,1377.40 L1007.85,1377.40 L1008.26,1377.40 L1008.67,1377.40 L1009.08,1377.40 L1009.49,1377.40 L1009.90,1377.40 L1010.31,1377.40 L1010.72,1377.40 L1011.13,1377.40 L1011.54,1377.40 L1011.95,1377.40 L1012.36,1377.40 L1012.77,1377.39 L1013.18,1377.39 L1013.59,1377.39 L1014.00,1377.39 L1014.41,1377.39 L1014.82,1377.39 L1015.23,1377.39 L1015.64,1377.39 L1016.05,1377.39 L1016.46,1377.39 L1016.87,1377.38 L1017.28,1377.38 L1017.69,1377.38 L1018.10,1377.38 L1018.51,1377.38 L1018.92,1377.38 L1019.33,1377.37 L1019.74,1377.37 L1020.15,1377.37 L1020.56,1377.37 L1020.97,1377.37 L1021.38,1377.37 L1021.79,1377.36 L1022.20,1377.36 L1022.61,1377.36 L1023.02,1377.36 L1023.43,1377.35 L1023.84,1377.35 L1024.25,1377.35 L1024.66,1377.35 L1025.07,1377.34 L1025.48,1377.34 L1025.89,1377.34 L1026.30,1377.34 L1026.71,1377.33 L1027.12,1377.33 L1027.53,1377.33 L1027.94,1377.33 L1028.35,1377.32 L1028.76,1377.32 L1029.17,1377.32 L1029.58,1377.31 L1029.99,1377.31 L1030.40,1377.31 L1030.81,1377.30 L1031.22,1377.30 L1031.63,1377.30 L1032.04,1377.29 L1032.45,1377.29 L1032.86,1377.28 L1033.27,1377.28 L1033.67,1377.28 L1034.08,1377.27 L1034.49,1377.27 L1034.90,1377.26 L1035.31,1377.26 L1035.72,1377.26 L1036.13,1377.25 L1036.54,1377.25 L1036.95,1377.24 L1037.36,1377.24 L1037.77,1377.23 L1038.18,1377.23 L1038.59,1377.22 L1039.00,1377.22 L1039.41,1377.21 L1039.82,1377.21 L1040.23,1377.20 L1040.64,1377.20 L1041.05,1377.19 L1041.46,1377.19 L1041.87,1377.18 L1042.28,1377.18 L1042.69,1377.17 L1043.10,1377.16 L1043.51,1377.16 L1043.92,1377.15 L1044.33,1377.14 L1044.74,1377.14 L1045.15,1377.13 L1045.56,1377.13 L1045.97,1377.12 L1046.38,1377.11 L1046.79,1377.10 L1047.20,1377.10 L1047.61,1377.09 L1048.02,1377.08 L1048.43,1377.08 L1048.84,1377.07 L1049.25,1377.06 L1049.66,1377.05 L1050.07,1377.04 L1050.48,1377.04 L1050.89,1377.03 L1051.30,1377.02 L1051.71,1377.01 L1052.12,1377.00 L1052.53,1376.99 L1052.94,1376.98 L1053.35,1376.97 L1053.76,1376.96 L1054.17,1376.95 L1054.58,1376.95 L1054.99,1376.94 L1055.40,1376.92 L1055.81,1376.91 L1056.22,1376.90 L1056.63,1376.89 L1057.04,1376.88 L1057.45,1376.87 L1057.86,1376.86 L1058.27,1376.85 L1058.68,1376.84 L1059.09,1376.82 L1059.50,1376.81 L1059.91,1376.80 L1060.32,1376.79 L1060.73,1376.77 L1061.13,1376.76 L1061.54,1376.75 L1061.95,1376.73 L1062.36,1376.72 L1062.77,1376.70 L1063.18,1376.69 L1063.59,1376.67 L1064.00,1376.66 L1064.41,1376.64 L1064.82,1376.63 L1065.23,1376.61 L1065.64,1376.59 L1066.05,1376.58 L1066.46,1376.56 L1066.87,1376.54 L1067.28,1376.52 L1067.69,1376.50 L1068.10,1376.48 L1068.51,1376.46 L1068.92,1376.45 L1069.33,1376.42 L1069.74,1376.40 L1070.15,1376.38 L1070.56,1376.36 L1070.97,1376.34 L1071.38,1376.32 L1071.79,1376.29 L1072.20,1376.27 L1072.61,1376.24 L1073.02,1376.22 L1073.43,1376.19 L1073.84,1376.17 L1074.25,1376.14 L1074.66,1376.11 L1075.07,1376.09 L1075.48,1376.06 L1075.89,1376.03 L1076.30,1376.00 L1076.71,1375.97 L1077.12,1375.94 L1077.53,1375.90 L1077.94,1375.87 L1078.35,1375.83 L1078.76,1375.80 L1079.17,1375.76 L1079.58,1375.73 L1079.99,1375.69 L1080.40,1375.65 L1080.81,1375.61 L1081.22,1375.57 L1081.63,1375.53 L1082.04,1375.48 L1082.45,1375.44 L1082.86,1375.39 L1083.27,1375.34 L1083.68,1375.30 L1084.09,1375.25 L1084.50,1375.19 L1084.91,1375.14 L1085.32,1375.09 L1085.73,1375.03 L1086.14,1374.97 L1086.55,1374.91 L1086.96,1374.85 L1087.37,1374.79 L1087.78,1374.72 L1088.18,1374.66 L1088.59,1374.59 L1089.00,1374.51 L1089.41,1374.44 L1089.82,1374.36 L1090.23,1374.28 L1090.64,1374.20 L1091.05,1374.12 L1091.46,1374.03 L1091.87,1373.94 L1092.28,1373.84 L1092.69,1373.75 L1093.10,1373.65 L1093.51,1373.54 L1093.92,1373.43 L1094.33,1373.32 L1094.74,1373.20 L1095.15,1373.08 L1095.56,1372.96 L1095.97,1372.83 L1096.38,1372.69 L1096.79,1372.55 L1097.20,1372.40 L1097.61,1372.25 L1098.02,1372.09 L1098.43,1371.93 L1098.84,1371.75 L1099.25,1371.57 L1099.66,1371.39 L1100.07,1371.19 L1100.48,1370.98 L1100.89,1370.77 L1101.30,1370.55 L1101.71,1370.31 L1102.12,1370.06 L1102.53,1369.81 L1102.94,1369.54 L1103.35,1369.25 L1103.76,1368.96 L1104.17,1368.64 L1104.58,1368.31 L1104.99,1367.97 L1105.40,1367.60 L1105.81,1367.22 L1106.22,1366.81 L1106.63,1366.38 L1107.04,1365.93 L1107.45,1365.45 L1107.86,1364.94 L1108.27,1364.40 L1108.68,1363.83 L1109.09,1363.22 L1109.50,1362.58 L1109.91,1361.89 L1110.32,1361.16 L1110.73,1360.38 L1111.14,1359.54 L1111.55,1358.65 L1111.96,1357.69 L1112.37,1356.66 L1112.78,1355.56 L1113.19,1354.37 L1113.60,1353.09 L1114.01,1351.71 L1114.42,1350.22 L1114.83,1348.60 L1115.24,1346.84 L1115.64,1344.94 L1116.05,1342.86 L1116.46,1340.59 L1116.87,1338.11 L1117.28,1335.40 L1117.69,1332.41 L1118.10,1329.13 L1118.51,1325.51 L1118.92,1321.51 L1119.33,1317.08 L1119.74,1312.15 L1120.15,1306.67 L1120.56,1300.55 L1120.97,1293.71 L1121.38,1286.04 L1121.79,1277.44 L1122.20,1267.76 L1122.61,1256.88 L1123.02,1244.62 L1123.43,1230.82 L1123.84,1215.32 L1124.25,1197.96 L1124.66,1178.61 L1125.07,1157.21 L1125.48,1133.80 L1125.89,1108.59 L1126.30,1082.02 L1126.71,1054.80 L1127.12,1027.97 L1127.53,1002.83 L1127.94,980.89 L1128.35,963.54 L1128.76,951.86 L1129.17,946.23 L1129.42,945.48 L1129.58,945.54 L1129.99,946.90 L1130.40,951.20 L1130.81,959.37 L1131.22,971.82 L1131.63,988.49 L1132.04,1008.88 L1132.45,1032.12 L1132.86,1057.21 L1133.27,1083.08 L1133.68,1108.82 L1134.09,1133.68 L1134.50,1157.16 L1134.91,1178.92 L1135.32,1198.81 L1135.73,1216.80 L1136.14,1232.96 L1136.55,1247.39 L1136.96,1260.23 L1137.37,1271.63 L1137.78,1281.75 L1138.19,1290.73 L1138.60,1298.69 L1139.01,1305.77 L1139.42,1312.07 L1139.83,1317.68 L1140.24,1322.70 L1140.65,1327.18 L1141.06,1331.20 L1141.47,1334.81 L1141.88,1338.07 L1142.29,1341.00 L1142.70,1343.66 L1143.10,1346.06 L1143.51,1348.25 L1143.92,1350.24 L1144.33,1352.05 L1144.74,1353.70 L1145.15,1355.22 L1145.56,1356.61 L1145.97,1357.89 L1146.38,1359.06 L1146.79,1360.14 L1147.20,1361.14 L1147.61,1362.07 L1148.02,1362.92 L1148.43,1363.72 L1148.84,1364.45 L1149.25,1365.14 L1149.66,1365.78 L1150.07,1366.37 L1150.48,1366.93 L1150.89,1367.45 L1151.30,1367.94 L1151.71,1368.39 L1152.12,1368.82 L1152.53,1369.22 L1152.94,1369.60 L1153.35,1369.95 L1153.76,1370.28 L1154.17,1370.60 L1154.58,1370.90 L1154.99,1371.18 L1155.40,1371.44 L1155.81,1371.69 L1156.22,1371.93 L1156.63,1372.16 L1157.04,1372.37 L1157.45,1372.57 L1157.86,1372.76 L1158.27,1372.95 L1158.68,1373.12 L1159.09,1373.28 L1159.50,1373.44 L1159.91,1373.59 L1160.32,1373.73 L1160.73,1373.87 L1161.14,1374.00 L1161.55,1374.12 L1161.96,1374.24 L1162.37,1374.36 L1162.78,1374.47 L1163.19,1374.57 L1163.60,1374.67 L1164.01,1374.76 L1164.42,1374.86 L1164.83,1374.94 L1165.24,1375.03 L1165.65,1375.11 L1166.06,1375.19 L1166.47,1375.26 L1166.88,1375.33 L1167.29,1375.40 L1167.70,1375.47 L1168.11,1375.53 L1168.52,1375.59 L1168.93,1375.65 L1169.34,1375.71 L1169.75,1375.76 L1170.15,1375.82 L1170.56,1375.87 L1170.97,1375.92 L1171.38,1375.96 L1171.79,1376.01 L1172.20,1376.06 L1172.61,1376.10 L1173.02,1376.14 L1173.43,1376.18 L1173.84,1376.22 L1174.25,1376.26 L1174.66,1376.29 L1175.07,1376.33 L1175.48,1376.36 L1175.89,1376.39 L1176.30,1376.43 L1176.71,1376.46 L1177.12,1376.49 L1177.53,1376.52 L1177.94,1376.54 L1178.35,1376.57 L1178.76,1376.60 L1179.17,1376.62 L1179.58,1376.65 L1179.99,1376.67 L1180.40,1376.70 L1180.81,1376.72 L1181.22,1376.74 L1181.63,1376.76 L1182.04,1376.78 L1182.45,1376.80 L1182.86,1376.82 L1183.27,1376.84 L1183.68,1376.86 L1184.09,1376.88 L1184.50,1376.90 L1184.91,1376.91 L1185.32,1376.93 L1185.73,1376.95 L1186.14,1376.96 L1186.55,1376.98 L1186.96,1376.99 L1187.37,1377.01 L1187.78,1377.02 L1188.19,1377.04 L1188.60,1377.05 L1189.01,1377.06 L1189.42,1377.08 L1189.83,1377.09 L1190.24,1377.10 L1190.65,1377.11 L1191.06,1377.13 L1191.47,1377.14 L1191.88,1377.15 L1192.29,1377.16 L1192.70,1377.17 L1193.11,1377.18 L1193.52,1377.19 L1193.93,1377.20 L1194.34,1377.21 L1194.75,1377.22 L1195.16,1377.23 L1195.57,1377.24 L1195.98,1377.25 L1196.39,1377.26 L1196.80,1377.26 L1197.21,1377.27 L1197.61,1377.28 L1198.02,1377.29 L1198.43,1377.30 L1198.84,1377.30 L1199.25,1377.31 L1199.66,1377.32 L1200.07,1377.33 L1200.48,1377.33 L1200.89,1377.34 L1201.30,1377.35 L1201.71,1377.35 L1202.12,1377.36 L1202.53,1377.36 L1202.94,1377.37 L1203.35,1377.38 L1203.76,1377.38 L1204.17,1377.39 L1204.58,1377.39 L1204.99,1377.40 L1205.40,1377.40 L1205.81,1377.41 L1206.22,1377.41 L1206.63,1377.42 L1207.04,1377.42 L1207.45,1377.43 L1207.86,1377.43 L1208.27,1377.44 L1208.68,1377.44 L1209.09,1377.45 L1209.50,1377.45 L1209.91,1377.46 L1210.32,1377.46 L1210.73,1377.46 L1211.14,1377.47 L1211.55,1377.47 L1211.96,1377.48 L1212.37,1377.48 L1212.78,1377.48 L1213.19,1377.49 L1213.60,1377.49 L1214.01,1377.49 L1214.42,1377.50 L1214.83,1377.50 L1215.24,1377.50 L1215.65,1377.51 L1216.06,1377.51 L1216.47,1377.51 L1216.88,1377.52 L1217.29,1377.52 L1217.70,1377.52 L1218.11,1377.53 L1218.52,1377.53 L1218.93,1377.53 L1219.34,1377.53 L1219.75,1377.54 L1220.16,1377.54 L1220.57,1377.54 L1220.98,1377.54 L1221.39,1377.55 L1221.80,1377.55 L1222.21,1377.55 L1222.62,1377.55 L1223.03,1377.56 L1223.44,1377.56 L1223.85,1377.56 L1224.26,1377.56 L1224.67,1377.56 L1225.07,1377.57 L1225.48,1377.57 L1225.89,1377.57 L1226.30,1377.57 L1226.71,1377.57 L1227.12,1377.58 L1227.53,1377.58 L1227.94,1377.58 L1228.35,1377.58 L1228.76,1377.58 L1229.17,1377.58 L1229.58,1377.59 L1229.99,1377.59 L1230.40,1377.59 L1230.81,1377.59 L1231.22,1377.59 L1231.63,1377.59 L1232.04,1377.59 L1232.45,1377.60 L1232.86,1377.60 L1233.27,1377.60 L1233.68,1377.60 L1234.09,1377.60 L1234.50,1377.60 L1234.91,1377.60 L1235.32,1377.60 L1235.73,1377.60 L1236.14,1377.61 L1236.55,1377.61 L1236.96,1377.61 L1237.37,1377.61 L1237.78,1377.61 L1238.19,1377.61 L1238.60,1377.61 L1239.01,1377.61 L1239.42,1377.61 L1239.83,1377.61 L1240.24,1377.62 L1240.65,1377.62 L1241.06,1377.62 L1241.47,1377.62 L1241.88,1377.62 L1242.29,1377.62 L1242.70,1377.62 L1243.11,1377.62 L1243.52,1377.62 L1243.93,1377.62 L1244.34,1377.62 L1244.75,1377.62 L1245.16,1377.62 L1245.57,1377.62 L1245.98,1377.62 L1246.39,1377.62 L1246.80,1377.63 L1247.21,1377.63 L1247.62,1377.63 L1248.03,1377.63 L1248.44,1377.63 L1248.85,1377.63 L1249.26,1377.63 L1249.67,1377.63 L1250.08,1377.63 L1250.49,1377.63 L1250.90,1377.63 L1251.31,1377.63 L1251.72,1377.63 L1252.12,1377.63 L1252.53,1377.63 L1252.94,1377.63 L1253.35,1377.63 L1253.76,1377.63 L1254.17,1377.63 L1254.58,1377.63 L1254.99,1377.63 L1255.40,1377.63 L1255.81,1377.63 L1256.22,1377.63 L1256.63,1377.63 L1257.04,1377.63 L1257.45,1377.63 L1257.86,1377.63 L1258.27,1377.63 L1258.68,1377.63 L1259.09,1377.63 L1259.50,1377.63 L1259.91,1377.63 L1260.32,1377.63 L1260.73,1377.63 L1261.14,1377.63 L1261.55,1377.63 L1261.96,1377.63 L1262.37,1377.63 L1262.78,1377.63 L1263.19,1377.63 L1263.60,1377.63 L1264.01,1377.63 L1264.42,1377.63 L1264.83,1377.63 L1265.24,1377.63 L1265.65,1377.62 L1266.06,1377.62 L1266.47,1377.62 L1266.88,1377.62 L1267.29,1377.62 L1267.70,1377.62 L1268.11,1377.62 L1268.52,1377.62 L1268.93,1377.62 L1269.34,1377.62 L1269.75,1377.62 L1270.16,1377.62 L1270.57,1377.62 L1270.98,1377.62 L1271.39,1377.62 L1271.80,1377.62 L1272.21,1377.61 L1272.62,1377.61 L1273.03,1377.61 L1273.44,1377.61 L1273.85,1377.61 L1274.26,1377.61 L1274.67,1377.61 L1275.08,1377.61 L1275.49,1377.61 L1275.90,1377.61 L1276.31,1377.61 L1276.72,1377.61 L1277.13,1377.60 L1277.54,1377.60 L1277.95,1377.60 L1278.36,1377.60 L1278.77,1377.60 L1279.18,1377.60 L1279.58,1377.60 L1279.99,1377.60 L1280.40,1377.60 L1280.81,1377.59 L1281.22,1377.59 L1281.63,1377.59 L1282.04,1377.59 L1282.45,1377.59 L1282.86,1377.59 L1283.27,1377.59 L1283.68,1377.59 L1284.09,1377.58 L1284.50,1377.58 L1284.91,1377.58 L1285.32,1377.58 L1285.73,1377.58 L1286.14,1377.58 L1286.55,1377.58 L1286.96,1377.57 L1287.37,1377.57 L1287.78,1377.57 L1288.19,1377.57 L1288.60,1377.57 L1289.01,1377.57 L1289.42,1377.56 L1289.83,1377.56 L1290.24,1377.56 L1290.65,1377.56 L1291.06,1377.56 L1291.47,1377.55 L1291.88,1377.55 L1292.29,1377.55 L1292.70,1377.55 L1293.11,1377.55 L1293.52,1377.55 L1293.93,1377.54 L1294.34,1377.54 L1294.75,1377.54 L1295.16,1377.54 L1295.57,1377.54 L1295.98,1377.54 L1296.39,1377.53 L1296.80,1377.53 L1297.21,1377.53 L1297.62,1377.53 L1298.03,1377.53 L1298.44,1377.53 L1298.85,1377.52 L1299.26,1377.52 L1299.67,1377.52 L1300.08,1377.52 L1300.49,1377.52 L1300.90,1377.51 L1301.31,1377.51 L1301.72,1377.51 L1302.13,1377.51 L1302.54,1377.51 L1302.95,1377.50 L1303.36,1377.50 L1303.77,1377.50 L1304.18,1377.50 L1304.59,1377.49 L1305.00,1377.49 L1305.41,1377.49 L1305.82,1377.49 L1306.23,1377.48 L1306.64,1377.48 L1307.04,1377.48 L1307.45,1377.48 L1307.86,1377.47 L1308.27,1377.47 L1308.68,1377.47 L1309.09,1377.46 L1309.50,1377.46 L1309.91,1377.46 L1310.32,1377.45 L1310.73,1377.45 L1311.14,1377.45 L1311.55,1377.45 L1311.96,1377.44 L1312.37,1377.44 L1312.78,1377.43 L1313.19,1377.43 L1313.60,1377.43 L1314.01,1377.42 L1314.42,1377.42 L1314.83,1377.42 L1315.24,1377.41 L1315.65,1377.41 L1316.06,1377.40 L1316.47,1377.40 L1316.88,1377.40 L1317.29,1377.39 L1317.70,1377.39 L1318.11,1377.38 L1318.52,1377.38 L1318.93,1377.37 L1319.34,1377.37 L1319.75,1377.36 L1320.16,1377.36 L1320.57,1377.35 L1320.98,1377.35 L1321.39,1377.34 L1321.80,1377.34 L1322.21,1377.33 L1322.62,1377.33 L1323.03,1377.32 L1323.44,1377.32 L1323.85,1377.31 L1324.26,1377.30 L1324.67,1377.30 L1325.08,1377.29 L1325.49,1377.29 L1325.90,1377.28 L1326.31,1377.27 L1326.72,1377.27 L1327.13,1377.26 L1327.54,1377.25 L1327.95,1377.25 L1328.36,1377.24 L1328.77,1377.23 L1329.18,1377.22 L1329.59,1377.22 L1330.00,1377.21 L1330.41,1377.20 L1330.82,1377.19 L1331.23,1377.19 L1331.64,1377.18 L1332.05,1377.17 L1332.46,1377.16 L1332.87,1377.15 L1333.28,1377.14 L1333.69,1377.13 L1334.10,1377.12 L1334.50,1377.11 L1334.91,1377.10 L1335.32,1377.10 L1335.73,1377.09 L1336.14,1377.07 L1336.55,1377.06 L1336.96,1377.05 L1337.37,1377.04 L1337.78,1377.03 L1338.19,1377.02 L1338.60,1377.01 L1339.01,1377.00 L1339.42,1376.99 L1339.83,1376.97 L1340.24,1376.96 L1340.65,1376.95 L1341.06,1376.93 L1341.47,1376.92 L1341.88,1376.91 L1342.29,1376.89 L1342.70,1376.88 L1343.11,1376.87 L1343.52,1376.85 L1343.93,1376.84 L1344.34,1376.82 L1344.75,1376.80 L1345.16,1376.79 L1345.57,1376.77 L1345.98,1376.75 L1346.39,1376.74 L1346.80,1376.72 L1347.21,1376.70 L1347.62,1376.68 L1348.03,1376.67 L1348.44,1376.65 L1348.85,1376.63 L1349.26,1376.61 L1349.67,1376.59 L1350.08,1376.56 L1350.49,1376.54 L1350.90,1376.52 L1351.31,1376.50 L1351.72,1376.48 L1352.13,1376.45 L1352.54,1376.43 L1352.95,1376.40 L1353.36,1376.38 L1353.77,1376.35 L1354.18,1376.33 L1354.59,1376.30 L1355.00,1376.27 L1355.41,1376.24 L1355.82,1376.21 L1356.23,1376.18 L1356.64,1376.15 L1357.05,1376.12 L1357.46,1376.09 L1357.87,1376.06 L1358.28,1376.02 L1358.69,1375.99 L1359.10,1375.95 L1359.51,1375.91 L1359.92,1375.88 L1360.33,1375.84 L1360.74,1375.80 L1361.15,1375.76 L1361.55,1375.71 L1361.96,1375.67 L1362.37,1375.63 L1362.78,1375.58 L1363.19,1375.54 L1363.60,1375.49 L1364.01,1375.44 L1364.42,1375.39 L1364.83,1375.33 L1365.24,1375.28 L1365.65,1375.23 L1366.06,1375.17 L1366.47,1375.11 L1366.88,1375.05 L1367.29,1374.99 L1367.70,1374.92 L1368.11,1374.86 L1368.52,1374.79 L1368.93,1374.72 L1369.34,1374.64 L1369.75,1374.57 L1370.16,1374.49 L1370.57,1374.41 L1370.98,1374.33 L1371.39,1374.25 L1371.80,1374.16 L1372.21,1374.07 L1372.62,1373.97 L1373.03,1373.88 L1373.44,1373.78 L1373.85,1373.67 L1374.26,1373.57 L1374.67,1373.45 L1375.08,1373.34 L1375.49,1373.22 L1375.90,1373.10 L1376.31,1372.97 L1376.72,1372.84 L1377.13,1372.70 L1377.54,1372.56 L1377.95,1372.41 L1378.36,1372.25 L1378.77,1372.10 L1379.18,1371.93 L1379.59,1371.76 L1380.00,1371.58 L1380.41,1371.39 L1380.82,1371.20 L1381.23,1370.99 L1381.64,1370.78 L1382.05,1370.56 L1382.46,1370.34 L1382.87,1370.10 L1383.28,1369.85 L1383.69,1369.59 L1384.10,1369.32 L1384.51,1369.03 L1384.92,1368.74 L1385.33,1368.43 L1385.74,1368.10 L1386.15,1367.76 L1386.56,1367.40 L1386.97,1367.03 L1387.38,1366.64 L1387.79,1366.22 L1388.20,1365.79 L1388.61,1365.34 L1389.01,1364.86 L1389.42,1364.35 L1389.83,1363.82 L1390.24,1363.26 L1390.65,1362.67 L1391.06,1362.05 L1391.47,1361.39 L1391.88,1360.69 L1392.29,1359.96 L1392.70,1359.18 L1393.11,1358.35 L1393.52,1357.47 L1393.93,1356.54 L1394.34,1355.55 L1394.75,1354.50 L1395.16,1353.38 L1395.57,1352.18 L1395.98,1350.91 L1396.39,1349.54 L1396.80,1348.09 L1397.21,1346.53 L1397.62,1344.86 L1398.03,1343.07 L1398.44,1341.14 L1398.85,1339.07 L1399.26,1336.84 L1399.67,1334.44 L1400.08,1331.84 L1400.49,1329.04 L1400.90,1326.01 L1401.31,1322.72 L1401.72,1319.15 L1402.13,1315.27 L1402.54,1311.06 L1402.95,1306.46 L1403.36,1301.45 L1403.77,1295.97 L1404.18,1289.98 L1404.59,1283.42 L1405.00,1276.24 L1405.41,1268.35 L1405.82,1259.69 L1406.23,1250.18 L1406.64,1239.73 L1407.05,1228.25 L1407.46,1215.63 L1407.87,1201.78 L1408.28,1186.61 L1408.69,1170.01 L1409.10,1151.90 L1409.51,1132.24 L1409.92,1111.00 L1410.33,1088.21 L1410.74,1063.95 L1411.15,1038.39 L1411.56,1011.82 L1411.97,984.60 L1412.38,957.23 L1412.79,930.29 L1413.20,904.47 L1413.61,880.44 L1414.02,858.88 L1414.43,840.35 L1414.84,825.23 L1415.25,813.72 L1415.66,805.74 L1416.07,800.96 L1416.47,798.80 L1416.88,798.37 L1417.29,799.21 L1417.70,802.80 L1418.11,809.94 L1418.52,820.99 L1418.93,835.97 L1419.34,854.61 L1419.75,876.40 L1420.16,900.68 L1420.57,926.70 L1420.98,953.72 L1421.39,981.07 L1421.80,1008.14 L1422.21,1034.48 L1422.62,1059.72 L1423.03,1083.62 L1423.44,1106.05 L1423.85,1126.93 L1424.26,1146.25 L1424.67,1164.04 L1425.08,1180.38 L1425.49,1195.34 L1425.90,1209.02 L1426.31,1221.51 L1426.72,1232.90 L1427.13,1243.30 L1427.54,1252.79 L1427.95,1261.46 L1428.36,1269.38 L1428.77,1276.63 L1429.18,1283.26 L1429.59,1289.34 L1430.00,1294.92 L1430.41,1300.04 L1430.82,1304.76 L1431.23,1309.10 L1431.64,1313.10 L1432.05,1316.80 L1432.46,1320.23 L1432.87,1323.39 L1433.28,1326.33 L1433.69,1329.06 L1434.10,1331.59 L1434.51,1333.95 L1434.92,1336.15 L1435.33,1338.20 L1435.74,1340.12 L1436.15,1341.91 L1436.56,1343.59 L1436.97,1345.16 L1437.38,1346.64 L1437.79,1348.02 L1438.20,1349.33 L1438.61,1350.55 L1439.02,1351.71 L1439.43,1352.80 L1439.84,1353.82 L1440.25,1354.79 L1440.66,1355.71 L1441.07,1356.58 L1441.48,1357.40 L1441.89,1358.18 L1442.30,1358.92 L1442.71,1359.62 L1443.12,1360.28 L1443.52,1360.92 L1443.93,1361.52 L1444.34,1362.09 L1444.75,1362.64 L1445.16,1363.16 L1445.57,1363.65 L1445.98,1364.12 L1446.39,1364.58 L1446.80,1365.01 L1447.21,1365.42 L1447.62,1365.82 L1448.03,1366.19 L1448.44,1366.56 L1448.85,1366.90 L1449.26,1367.23 L1449.67,1367.55 L1450.08,1367.86 L1450.49,1368.15 L1450.90,1368.43 L1451.31,1368.71 L1451.72,1368.97 L1452.13,1369.22 L1452.54,1369.46 L1452.95,1369.69 L1453.36,1369.91 L1453.77,1370.13 L1454.18,1370.34 L1454.59,1370.54 L1455.00,1370.73 L1455.41,1370.91 L1455.82,1371.09 L1456.23,1371.27 L1456.64,1371.43 L1457.05,1371.60 L1457.46,1371.75 L1457.87,1371.90 L1458.28,1372.05 L1458.69,1372.19 L1459.10,1372.33 L1459.51,1372.46 L1459.92,1372.59 L1460.33,1372.71 L1460.74,1372.83 L1461.15,1372.95 L1461.56,1373.06 L1461.97,1373.17 L1462.38,1373.27 L1462.79,1373.38 L1463.20,1373.48 L1463.61,1373.57 L1464.02,1373.67 L1464.43,1373.76 L1464.84,1373.85 L1465.25,1373.93 L1465.66,1374.02 L1466.07,1374.10 L1466.48,1374.18 L1466.89,1374.25 L1467.30,1374.33 L1467.71,1374.40 L1468.12,1374.47 L1468.53,1374.54 L1468.94,1374.61 L1469.35,1374.68 L1469.76,1374.74 L1470.17,1374.80 L1470.58,1374.86 L1470.98,1374.92 L1471.39,1374.98 L1471.80,1375.03 L1472.21,1375.09 L1472.62,1375.14 L1473.03,1375.19 L1473.44,1375.25 L1473.85,1375.29 L1474.26,1375.34 L1474.67,1375.39 L1475.08,1375.44 L1475.49,1375.48 L1475.90,1375.53 L1476.31,1375.57 L1476.72,1375.61 L1477.13,1375.65 L1477.54,1375.69 L1477.95,1375.73 L1478.36,1375.77 L1478.77,1375.81 L1479.18,1375.84 L1479.59,1375.88 L1480.00,1375.91 L1480.41,1375.95 L1480.82,1375.98 L1481.23,1376.01 L1481.64,1376.05 L1482.05,1376.08 L1482.46,1376.11 L1482.87,1376.14 L1483.28,1376.17 L1483.69,1376.20 L1484.10,1376.23 L1484.51,1376.25 L1484.92,1376.28 L1485.33,1376.31 L1485.74,1376.33 L1486.15,1376.36 L1486.56,1376.38 L1486.97,1376.41 L1487.38,1376.43 L1487.79,1376.46 L1488.20,1376.48 L1488.61,1376.50 L1489.02,1376.52 L1489.43,1376.55 L1489.84,1376.57 L1490.25,1376.59 L1490.66,1376.61 L1491.07,1376.63 L1491.48,1376.65 L1491.89,1376.67 L1492.30,1376.69 L1492.71,1376.71 L1493.12,1376.72 L1493.53,1376.74 L1493.94,1376.76 L1494.35,1376.78 L1494.76,1376.80 L1495.17,1376.81 L1495.58,1376.83 L1495.99,1376.84 L1496.40,1376.86 L1496.81,1376.88 L1497.22,1376.89 L1497.63,1376.91 L1498.04,1376.92 L1498.44,1376.94 L1498.85,1376.95 L1499.26,1376.97 L1499.67,1376.98 L1500.08,1376.99 L1500.49,1377.01 L1500.90,1377.02 L1501.31,1377.03 L1501.72,1377.05 L1502.13,1377.06 L1502.54,1377.07 L1502.95,1377.08 L1503.36,1377.10 L1503.77,1377.11 L1504.18,1377.12 L1504.59,1377.13 L1505.00,1377.14 L1505.41,1377.15 L1505.82,1377.16 L1506.23,1377.17 L1506.64,1377.18 L1507.05,1377.19 L1507.46,1377.19 L1507.87,1377.20 L1508.28,1377.20 L1508.69,1377.21 L1509.10,1377.21 L1509.51,1377.21 L1509.92,1377.22 L1510.33,1377.22 L1510.74,1377.23 L1511.15,1377.23 L1511.56,1377.23 L1511.97,1377.24 L1512.38,1377.24 L1512.79,1377.25 L1513.20,1377.25 L1513.61,1377.25 L1514.02,1377.26 L1514.43,1377.26 L1514.84,1377.26 L1515.25,1377.26 L1515.66,1377.27 L1516.07,1377.27 L1516.48,1377.27 L1516.89,1377.27 L1517.30,1377.28 L1517.71,1377.28 L1518.12,1377.28 L1518.53,1377.28 L1518.94,1377.28 L1519.35,1377.29 L1519.76,1377.29 L1520.17,1377.29 L1520.58,1377.29 L1520.99,1377.29 L1521.40,1377.29 L1521.81,1377.29 L1522.22,1377.29 L1522.63,1377.30 L1523.04,1377.30 L1523.45,1377.30 L1523.86,1377.30 L1524.27,1377.30 L1524.68,1377.30 L1525.09,1377.30 L1525.49,1377.30 L1525.90,1377.30 L1526.31,1377.30 L1526.72,1377.30 L1527.13,1377.30 L1527.54,1377.30 L1527.95,1377.30 L1528.36,1377.30 L1528.77,1377.30 L1529.18,1377.30 L1529.59,1377.30 L1530.00,1377.30 L1530.41,1377.30 L1530.82,1377.30 L1531.23,1377.30 L1531.64,1377.30 L1532.05,1377.30 L1532.46,1377.30 L1532.87,1377.30 L1533.28,1377.30 L1533.69,1377.30 L1534.10,1377.30 L1534.51,1377.30 L1534.92,1377.30 L1535.33,1377.29 L1535.74,1377.29 L1536.15,1377.29 L1536.56,1377.29 L1536.97,1377.29 L1537.38,1377.29 L1537.79,1377.29 L1538.20,1377.29 L1538.61,1377.29 L1539.02,1377.28 L1539.43,1377.28 L1539.84,1377.28 L1540.25,1377.28 L1540.66,1377.28 L1541.07,1377.28 L1541.48,1377.28 L1541.89,1377.27 L1542.30,1377.27 L1542.71,1377.27 L1543.12,1377.27 L1543.53,1377.27 L1543.94,1377.27 L1544.35,1377.26 L1544.76,1377.26 L1545.17,1377.26 L1545.58,1377.26 L1545.99,1377.26 L1546.40,1377.25 L1546.81,1377.25 L1547.22,1377.25 L1547.63,1377.25 L1548.04,1377.25 L1548.45,1377.24 L1548.86,1377.24 L1549.27,1377.24 L1549.68,1377.24 L1550.09,1377.24 L1550.50,1377.23 L1550.91,1377.23 L1551.32,1377.23 L1551.73,1377.23 L1552.14,1377.22 L1552.55,1377.22 L1552.95,1377.22 L1553.36,1377.22 L1553.77,1377.21 L1554.18,1377.21 L1554.59,1377.21 L1555.00,1377.21 L1555.41,1377.20 L1555.82,1377.20 L1556.23,1377.20 L1556.64,1377.20 L1557.05,1377.19 L1557.46,1377.19 L1557.87,1377.19 L1558.28,1377.18 L1558.69,1377.18 L1559.10,1377.18 L1559.51,1377.18 L1559.92,1377.17 L1560.33,1377.17 L1560.74,1377.17 L1561.15,1377.16 L1561.56,1377.16 L1561.97,1377.16 L1562.38,1377.16 L1562.79,1377.15 L1563.20,1377.15 L1563.61,1377.15 L1564.02,1377.14 L1564.43,1377.14 L1564.84,1377.14 L1565.25,1377.13 L1565.66,1377.13 L1566.07,1377.13 L1566.48,1377.13 L1566.89,1377.12 L1567.30,1377.12 L1567.71,1377.12 L1568.12,1377.11 L1568.53,1377.11 L1568.94,1377.11 L1569.35,1377.10 L1569.76,1377.10 L1570.17,1377.10 L1570.58,1377.09 L1570.99,1377.09 L1571.40,1377.09 L1571.81,1377.08 L1572.22,1377.08 L1572.63,1377.08 L1573.04,1377.07 L1573.45,1377.07 L1573.86,1377.07 L1574.27,1377.06 L1574.68,1377.06 L1575.09,1377.06 L1575.50,1377.05 L1575.91,1377.05 L1576.32,1377.04 L1576.73,1377.04 L1577.14,1377.04 L1577.55,1377.03 L1577.96,1377.03 L1578.37,1377.03 L1578.78,1377.02 L1579.19,1377.02 L1579.60,1377.02 L1580.01,1377.01 L1580.41,1377.00 L1580.82,1376.98 L1581.23,1376.96 L1581.64,1376.94 L1582.05,1376.93 L1582.46,1376.91 L1582.87,1376.89 L1583.28,1376.88 L1583.69,1376.86 L1584.10,1376.84 L1584.51,1376.82 L1584.92,1376.81 L1585.33,1376.79 L1585.74,1376.77 L1586.15,1376.75 L1586.56,1376.74 L1586.97,1376.72 L1587.38,1376.70 L1587.79,1376.69 L1588.20,1376.67 L1588.61,1376.65 L1589.02,1376.63 L1589.43,1376.62 L1589.84,1376.60 L1590.25,1376.58 L1590.66,1376.56 L1591.07,1376.55 L1591.48,1376.53 L1591.89,1376.51 L1592.30,1376.49 L1592.71,1376.48 L1593.12,1376.46 L1593.53,1376.44 L1593.94,1376.42 L1594.35,1376.41 L1594.76,1376.39 L1595.17,1376.37 L1595.58,1376.35 L1595.99,1376.34 L1596.40,1376.32 L1596.81,1376.30 L1597.22,1376.28 L1597.63,1376.27 L1598.04,1376.25 L1598.45,1376.23 L1598.86,1376.21 L1599.27,1376.20 L1599.68,1376.18 L1600.09,1376.16 L1600.50,1376.14 L1600.91,1376.13 L1601.32,1376.11 L1601.73,1376.09 L1602.14,1376.07 L1602.55,1376.06 L1602.96,1376.04 L1603.37,1376.02 L1603.78,1376.00 L1604.19,1375.99 L1604.60,1375.97 L1605.01,1375.95 L1605.42,1375.93 L1605.83,1375.92 L1606.24,1375.90 L1606.65,1375.88 L1607.06,1375.86 L1607.46,1375.84 L1607.87,1375.83 L1608.28,1375.81 L1608.69,1375.79 L1609.10,1375.77 L1609.51,1375.76 L1609.92,1375.74 L1610.33,1375.72 L1610.74,1375.70 L1611.15,1375.69 L1611.56,1375.67 L1611.97,1375.65 L1612.38,1375.63 L1612.79,1375.61 L1613.20,1375.60 L1613.61,1375.58 L1614.02,1375.56 L1614.43,1375.54 L1614.84,1375.53 L1615.25,1375.51 L1615.66,1375.49 L1616.07,1375.47 L1616.48,1375.45 L1616.89,1375.44 L1617.30,1375.42 L1617.71,1375.40 L1618.12,1375.38 L1618.53,1375.37 L1618.94,1375.35 L1619.35,1375.33 L1619.76,1375.31 L1620.17,1375.29 L1620.58,1375.28 L1620.99,1375.26 L1621.40,1375.24 L1621.81,1375.22 L1622.22,1375.20 L1622.63,1375.19 L1623.04,1375.17 L1623.45,1375.15 L1623.86,1375.13 L1624.27,1375.12 L1624.68,1375.10 L1625.09,1375.08 L1625.50,1375.06 L1625.91,1375.04 L1626.32,1375.03 L1626.73,1375.01 L1627.14,1374.99 L1627.55,1374.97 L1627.96,1374.95 L1628.37,1374.94 L1628.78,1374.92 L1629.19,1374.90 L1629.60,1374.88 L1630.01,1374.86 L1630.42,1374.85 L1630.83,1374.83 L1631.24,1374.81 L1631.65,1374.79 L1632.06,1374.77 L1632.47,1374.76 L1632.88,1374.74 L1633.29,1374.72 L1633.70,1374.70 L1634.11,1374.68 L1634.52,1374.67 L1634.92,1374.65 L1635.33,1374.63 L1635.74,1374.61 L1636.15,1374.59 L1636.56,1374.58 L1636.97,1374.56 L1637.38,1374.54 L1637.79,1374.53 L1638.20,1374.53 L1638.61,1374.52 L1639.02,1374.51 L1639.43,1374.50 L1639.84,1374.50 L1640.25,1374.49 L1640.66,1374.48 L1641.07,1374.47 L1641.48,1374.46 L1641.89,1374.46 L1642.30,1374.45 L1642.71,1374.44 L1643.12,1374.43 L1643.53,1374.43 L1643.94,1374.42 L1644.35,1374.41 L1644.76,1374.40 L1645.17,1374.40 L1645.58,1374.39 L1645.99,1374.38 L1646.40,1374.37 L1646.81,1374.37 L1647.22,1374.36 L1647.63,1374.35 L1648.04,1374.34 L1648.45,1374.33 L1648.86,1374.33 L1649.27,1374.32 L1649.68,1374.31 L1650.09,1374.30 L1650.50,1374.30 L1650.91,1374.29 L1651.32,1374.28 L1651.73,1374.27 L1652.14,1374.27 L1652.55,1374.26 L1652.96,1374.25 L1653.37,1374.24 L1653.78,1374.23 L1654.19,1374.23 L1654.60,1374.22 L1655.01,1374.21 L1655.42,1374.20 L1655.83,1374.20 L1656.24,1374.19 L1656.65,1374.18 L1657.06,1374.17 L1657.47,1374.17 L1657.88,1374.16 L1658.29,1374.15 L1658.70,1374.14 L1659.11,1374.13 L1659.52,1374.13 L1659.93,1374.12 L1660.34,1374.11 L1660.75,1374.10 L1661.16,1374.10 L1661.57,1374.09 L1661.97,1374.08 L1662.38,1374.07 L1662.79,1374.07 L1663.20,1374.06 L1663.61,1374.05 L1664.02,1374.04 L1664.43,1374.03 L1664.84,1374.03 L1665.25,1374.02 L1665.66,1374.01 L1666.07,1374.00 L1666.48,1374.00 L1666.89,1373.99 L1667.30,1373.98 L1667.71,1373.97 L1668.12,1373.96 L1668.53,1373.96 L1668.94,1373.95 L1669.35,1373.94 L1669.76,1373.93 L1670.17,1373.93 L1670.58,1373.93 L1670.99,1373.93 L1671.40,1373.93 L1671.81,1373.93 L1672.22,1373.93 L1672.63,1373.93 L1673.04,1373.93 L1673.45,1373.93 L1673.86,1373.93 L1674.27,1373.93 L1674.68,1373.93 L1675.09,1373.93 L1675.50,1373.93 L1675.91,1373.93 L1676.32,1373.93 L1676.73,1373.93 L1677.14,1373.93 L1677.55,1373.93 L1677.96,1373.93 L1678.37,1373.93 L1678.78,1373.93 L1679.19,1373.93 L1679.60,1373.93 L1680.01,1373.93 L1680.42,1373.93 L1680.83,1373.93 L1681.24,1373.93 L1681.65,1373.93 L1682.06,1373.93 L1682.47,1373.93 L1682.88,1373.93 L1683.29,1373.93 L1683.70,1373.94 L1684.11,1373.94 L1684.52,1373.94 L1684.93,1373.94 L1685.34,1373.94 L1685.75,1373.94 L1686.16,1373.94 L1686.57,1373.94 L1686.98,1373.94 L1687.39,1373.94 L1687.80,1373.94 L1688.21,1373.94 L1688.62,1373.94 L1689.03,1373.94 L1689.43,1373.94 L1689.84,1373.94 L1690.25,1373.94 L1690.66,1373.94 L1691.07,1373.94 L1691.48,1373.94 L1691.89,1373.94 L1692.30,1373.94 L1692.71,1373.94 L1693.12,1373.94 L1693.53,1373.94 L1693.94,1373.94 L1694.35,1373.94 L1694.76,1373.94 L1695.17,1373.94 L1695.58,1373.94 L1695.99,1373.94 L1696.40,1373.94 L1696.81,1373.94 L1697.22,1373.94 L1697.63,1373.94 L1698.04,1373.94 L1698.45,1373.94 L1698.86,1373.94 L1699.27,1373.94 L1699.68,1373.94 L1700.09,1373.95 L1700.50,1373.95 L1700.91,1373.95 L1701.32,1373.95 L1701.73,1373.95 L1702.14,1373.95 L1702.55,1373.95 L1702.96,1373.95 L1703.37,1373.95 L1703.78,1373.95 L1704.19,1373.95 L1704.60,1373.95 L1705.01,1373.95 L1705.42,1373.95 L1705.83,1373.95 L1706.24,1373.95 L1706.65,1373.95 L1707.06,1373.95 L1707.47,1373.95 L1707.88,1373.95 L1708.29,1373.95 L1708.70,1373.95 L1709.11,1373.95 L1709.52,1373.95 L1709.93,1373.95 L1710.34,1373.95 L1710.75,1373.95 L1711.16,1373.95" fill="none" stroke="#0072bd" stroke-width="3.4" stroke-linejoin="round"/>
<g fill="#262626"><rect x="226" y="79.6" width="1642.5" height="3.4" fill-opacity="0.27"/><rect x="226" y="83" width="1642.5" height="3" fill-opacity="0.82"/><rect x="1868.5" y="83" width="3.3" height="1299" fill-opacity="0.27"/><rect x="1865.2" y="83" width="3.3" height="1299" fill-opacity="0.78"/><rect x="226" y="83" width="3.3" height="1299" fill="#222222"/><rect x="226" y="1378.9" width="1642.5" height="3.1" fill="#222222"/></g>
<g transform="translate(225.30,1454.00) scale(0.87,1)"><text x="-15.02" y="0" fill="#262626" font-size="54" stroke="#ffffff" stroke-width="1.2">0</text></g>
<g transform="translate(389.74,1454.00) scale(0.87,1)"><text x="-30.03" y="0" fill="#262626" font-size="54" stroke="#ffffff" stroke-width="1.2">20</text></g>
<g transform="translate(551.08,1454.00) scale(0.87,1)"><text x="-30.03" y="0" fill="#262626" font-size="54" stroke="#ffffff" stroke-width="1.2">40</text></g>
<g transform="translate(715.92,1454.00) scale(0.87,1)"><text x="-30.03" y="0" fill="#262626" font-size="54" stroke="#ffffff" stroke-width="1.2">60</text></g>
<g transform="translate(879.86,1454.00) scale(0.87,1)"><text x="-30.03" y="0" fill="#262626" font-size="54" stroke="#ffffff" stroke-width="1.2">80</text></g>
<g transform="translate(1042.40,1454.00) scale(0.87,1)"><text x="-45.05" y="0" fill="#262626" font-size="54" stroke="#ffffff" stroke-width="1.2">100</text><g fill="#ffffff"><rect x="-42.35" y="-4.43" width="11.50" height="5.43"/><rect x="-27.25" y="-4.43" width="10.82" height="5.43"/></g></g>
<g transform="translate(1206.14,1454.00) scale(0.87,1)"><text x="-45.05" y="0" fill="#262626" font-size="54" stroke="#ffffff" stroke-width="1.2">120</text><g fill="#ffffff"><rect x="-42.35" y="-4.43" width="11.50" height="5.43"/><rect x="-27.25" y="-4.43" width="10.82" height="5.43"/></g></g>
<g transform="translate(1370.38,1454.00) scale(0.87,1)"><text x="-45.05" y="0" fill="#262626" font-size="54" stroke="#ffffff" stroke-width="1.2">140</text><g fill="#ffffff"><rect x="-42.35" y="-4.43" width="11.50" height="5.43"/><rect x="-27.25" y="-4.43" width="10.82" height="5.43"/></g></g>
<g transform="translate(1535.32,1454.00) scale(0.87,1)"><text x="-45.05" y="0" fill="#262626" font-size="54" stroke="#ffffff" stroke-width="1.2">160</text><g fill="#ffffff"><rect x="-42.35" y="-4.43" width="11.50" height="5.43"/><rect x="-27.25" y="-4.43" width="10.82" height="5.43"/></g></g>
<g transform="translate(1700.26,1454.00) scale(0.87,1)"><text x="-45.05" y="0" fill="#262626" font-size="54" stroke="#ffffff" stroke-width="1.2">180</text><g fill="#ffffff"><rect x="-42.35" y="-4.43" width="11.50" height="5.43"/><rect x="-27.25" y="-4.43" width="10.82" height="5.43"/></g></g>
<g transform="translate(1865.30,1454.00) scale(0.87,1)"><text x="-45.05" y="0" fill="#262626" font-size="54" stroke="#ffffff" stroke-width="1.2">200</text></g>
<g transform="translate(201.00,1402.75) scale(0.87,1)"><text x="-30.03" y="0" fill="#262626" font-size="54" stroke="#ffffff" stroke-width="1.2">0</text></g>
<g transform="translate(202.00,1271.87) scale(0.87,1)"><text x="-60.06" y="0" fill="#262626" font-size="54" stroke="#ffffff" stroke-width="1.2">10</text><g fill="#ffffff"><rect x="-57.36" y="-4.43" width="11.50" height="5.43"/><rect x="-42.27" y="-4.43" width="10.82" height="5.43"/></g></g>
<g transform="translate(202.00,1141.58) scale(0.87,1)"><text x="-60.06" y="0" fill="#262626" font-size="54" stroke="#ffffff" stroke-width="1.2">20</text></g>
<g transform="translate(202.00,1011.30) scale(0.87,1)"><text x="-60.06" y="0" fill="#262626" font-size="54" stroke="#ffffff" stroke-width="1.2">30</text></g>
<g transform="translate(202.00,881.41) scale(0.87,1)"><text x="-60.06" y="0" fill="#262626" font-size="54" stroke="#ffffff" stroke-width="1.2">40</text></g>
<g transform="translate(202.00,754.53) scale(0.87,1)"><text x="-60.06" y="0" fill="#262626" font-size="54" stroke="#ffffff" stroke-width="1.2">50</text></g>
<g transform="translate(202.00,624.34) scale(0.87,1)"><text x="-60.06" y="0" fill="#262626" font-size="54" stroke="#ffffff" stroke-width="1.2">60</text></g>
<g transform="translate(203.00,493.96) scale(0.87,1)"><text x="-60.06" y="0" fill="#262626" font-size="54" stroke="#ffffff" stroke-width="1.2">70</text></g>
<g transform="translate(202.00,363.72) scale(0.87,1)"><text x="-60.06" y="0" fill="#262626" font-size="54" stroke="#ffffff" stroke-width="1.2">80</text></g>
<g transform="translate(203.50,233.74) scale(0.87,1)"><text x="-60.06" y="0" fill="#262626" font-size="54" stroke="#ffffff" stroke-width="1.2">90</text></g>
<g transform="translate(200.00,102.70) scale(0.87,1)"><text x="-90.10" y="0" fill="#262626" font-size="54" stroke="#ffffff" stroke-width="1.2">100</text><g fill="#ffffff"><rect x="-87.40" y="-4.43" width="11.50" height="5.43"/><rect x="-72.30" y="-4.43" width="10.82" height="5.43"/></g></g>
<text x="0" y="0" text-anchor="middle" fill="#262626" stroke="#ffffff" stroke-width="1.2" font-size="58" transform="translate(1046,1525.8) scale(0.975,1)">Angle (deg)</text>
<g transform="translate(89.5,832.2) rotate(-90) scale(0.945,1)"><text x="0" y="0" fill="#262626" stroke="#ffffff" stroke-width="1.2" font-size="58">1/Norm<tspan font-size="54" dy="-27">2</tspan></text><g fill="#ffffff"><rect x="2.90" y="-4.76" width="12.31" height="5.76"/><rect x="19.16" y="-4.76" width="11.58" height="5.76"/></g></g>
<text x="0" y="0" fill="#000000" stroke="#ffffff" stroke-width="0.9" word-spacing="-3.9" font-weight="bold" font-size="61" transform="translate(145.0,60.0) scale(0.906,1)">Estimation of DOAs over the differenet sources amplitude variances</text>
</svg>
</body></html>
